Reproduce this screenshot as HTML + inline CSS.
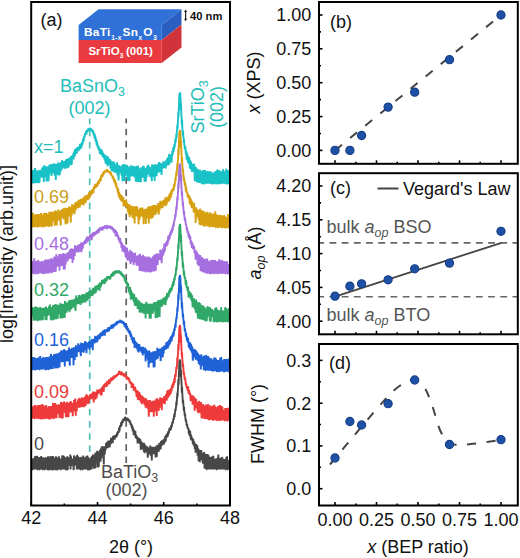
<!DOCTYPE html><html><head><meta charset="utf-8"><style>html,body{margin:0;padding:0;background:#fff;overflow:hidden}svg{display:block}</style></head><body><svg width="520" height="558" viewBox="0 0 520 558" font-family="Liberation Sans, sans-serif"><rect width="520" height="558" fill="#fff"/><line x1="89.7" y1="118.5" x2="89.7" y2="452" stroke="#4fbfb5" stroke-width="1.7" stroke-dasharray="6.6 5.54" stroke-dashoffset="0.9"/><line x1="126.2" y1="118.5" x2="126.2" y2="463" stroke="#606060" stroke-width="1.7" stroke-dasharray="6.6 5.54" stroke-dashoffset="1.95"/><polyline points="31.8,178.7 32.0,173.8 32.3,171.0 32.5,178.6 32.8,183.4 33.0,173.7 33.3,169.8 33.5,175.7 33.8,183.3 34.0,170.8 34.3,173.6 34.5,183.2 34.8,178.4 35.0,167.9 35.3,170.7 35.5,183.1 35.8,175.4 36.0,171.8 36.3,175.3 36.5,178.2 36.8,182.9 37.0,170.5 37.3,173.2 37.5,182.9 37.8,178.0 38.0,173.2 38.3,170.3 38.5,182.7 38.8,182.6 39.0,173.0 39.3,171.4 39.5,182.6 39.8,174.9 40.0,171.3 40.3,170.0 40.5,174.8 40.8,177.5 41.0,169.9 41.3,171.1 41.5,177.5 41.8,174.6 42.0,171.0 42.3,167.7 42.5,177.3 42.8,177.3 43.0,169.7 43.3,166.7 43.5,172.4 43.8,182.0 44.0,172.3 44.3,165.2 44.5,172.3 44.8,177.0 45.0,166.5 45.3,169.3 45.5,174.1 45.8,172.0 46.0,166.4 46.3,169.1 46.5,181.6 46.8,173.9 47.0,167.1 47.3,167.0 47.5,173.8 47.8,171.7 48.0,168.9 48.3,166.8 48.5,181.3 48.8,176.4 49.0,167.7 49.3,165.1 49.5,173.5 49.8,171.5 50.0,168.6 50.3,164.4 50.5,169.8 50.8,173.2 51.0,167.4 51.3,165.6 51.5,176.0 51.8,171.1 52.0,164.1 52.3,166.2 52.5,173.1 52.8,171.0 53.0,163.9 53.3,169.3 53.5,172.8 53.8,172.8 54.0,164.4 54.3,163.6 54.5,170.7 54.8,175.5 55.0,166.7 55.3,164.1 55.5,172.5 55.8,180.0 56.0,164.1 56.3,165.6 56.5,175.2 56.8,170.3 57.0,166.4 57.3,163.8 57.5,170.1 57.8,172.1 58.0,165.2 58.3,162.4 58.5,174.8 58.8,174.7 59.0,163.5 59.3,165.0 59.5,174.6 59.8,174.5 60.0,162.7 60.3,163.2 60.5,171.6 60.8,167.9 61.0,163.2 61.3,163.8 61.5,169.5 61.8,169.4 62.0,160.2 62.3,162.8 62.5,166.4 62.8,167.6 63.0,162.7 63.3,161.4 63.5,167.5 63.8,167.3 64.0,161.9 64.3,161.7 64.5,168.8 64.8,167.1 65.0,161.1 65.3,163.7 65.5,165.7 65.8,166.9 66.0,159.2 66.3,163.5 66.5,166.8 66.8,168.2 67.0,159.0 67.3,159.8 67.5,166.5 67.8,165.0 68.0,158.6 68.3,159.0 68.5,167.7 68.8,162.8 69.0,160.5 69.3,158.2 69.5,161.7 69.8,161.6 70.0,158.1 70.3,157.8 70.5,162.2 70.8,165.3 71.0,156.3 71.3,156.5 71.5,160.9 71.8,164.7 72.0,155.5 72.3,156.6 72.5,158.4 72.8,157.4 73.0,155.7 73.3,153.7 73.5,159.4 73.8,155.1 74.0,152.7 74.3,151.4 74.5,156.0 74.8,156.4 75.0,149.9 75.3,149.4 75.5,152.5 75.8,152.9 76.0,148.6 76.3,149.0 76.5,152.9 76.8,153.5 77.0,147.7 77.3,147.9 77.5,149.0 77.8,150.2 78.0,147.2 78.3,147.4 78.5,151.0 78.8,149.6 79.0,148.1 79.3,146.5 79.5,149.4 79.8,147.3 80.0,143.8 80.3,145.3 80.5,149.2 80.8,147.4 81.0,144.4 81.3,143.4 81.5,147.3 81.8,145.7 82.0,142.9 82.3,142.2 82.5,144.6 82.8,143.0 83.0,140.3 83.3,138.5 83.5,141.2 83.8,140.0 84.0,137.7 84.3,135.8 84.5,137.0 84.8,136.7 85.0,134.1 85.3,133.2 85.5,134.8 85.8,133.4 86.0,131.1 86.3,131.6 86.5,134.5 86.8,131.9 87.0,130.6 87.3,130.1 87.5,131.2 87.8,131.3 88.0,130.0 88.3,128.4 88.5,130.5 88.8,130.5 89.0,128.7 89.3,128.2 89.5,129.7 89.8,129.7 90.0,128.2 90.3,128.5 90.5,129.2 90.8,130.1 91.0,128.5 91.3,129.4 91.5,130.4 91.8,131.2 92.0,129.6 92.3,130.2 92.5,131.9 92.8,132.5 93.0,130.3 93.3,132.8 93.5,134.0 93.8,135.2 94.0,133.0 94.3,134.0 94.5,137.6 94.8,138.3 95.0,135.0 95.3,136.2 95.5,140.3 95.8,141.5 96.0,138.5 96.3,140.3 96.5,143.8 96.8,144.9 97.0,141.2 97.3,143.1 97.5,146.9 97.8,147.2 98.0,145.9 98.3,145.3 98.5,149.7 98.8,149.6 99.0,148.0 99.3,147.3 99.5,149.2 99.8,153.6 100.0,149.7 100.3,150.5 100.5,152.8 100.8,154.3 101.0,149.1 101.3,151.9 101.5,154.5 101.8,154.7 102.0,150.3 102.3,152.0 102.5,153.7 102.8,156.8 103.0,153.1 103.3,154.0 103.5,157.7 103.8,157.4 104.0,154.4 104.3,155.1 104.5,159.1 104.8,160.2 105.0,155.6 105.3,155.7 105.5,162.2 105.8,163.4 106.0,156.4 106.3,155.5 106.5,162.6 106.8,164.1 107.0,156.8 107.3,159.1 107.5,165.5 107.8,165.8 108.0,156.6 108.3,159.1 108.5,162.1 108.8,164.0 109.0,159.8 109.3,159.6 109.5,164.2 109.8,164.6 110.0,159.1 110.3,160.9 110.5,168.5 110.8,166.0 111.0,163.1 111.3,160.7 111.5,169.0 111.8,171.2 112.0,161.6 112.3,162.3 112.5,166.5 112.8,171.5 113.0,164.6 113.3,163.9 113.5,171.5 113.8,169.7 114.0,161.6 114.3,164.3 114.5,171.9 114.8,172.1 115.0,164.5 115.3,165.3 115.5,170.2 115.8,167.5 116.0,165.5 116.3,166.5 116.5,172.4 116.8,172.6 117.0,162.3 117.3,165.0 117.5,175.4 117.8,170.7 118.0,165.1 118.3,168.0 118.5,180.5 118.8,175.7 119.0,167.0 119.3,165.3 119.5,170.9 119.8,169.4 120.0,168.1 120.3,168.2 120.5,173.0 120.8,171.1 121.0,168.2 121.3,166.3 121.5,173.1 121.8,175.9 122.0,167.2 122.3,165.5 122.5,180.8 122.8,180.8 123.0,165.5 123.3,164.2 123.5,173.2 123.8,180.8 124.0,166.4 124.3,165.6 124.5,180.9 124.8,171.2 125.0,164.2 125.3,168.4 125.5,176.1 125.8,171.3 126.0,167.4 126.3,167.4 126.5,169.7 126.8,171.3 127.0,165.7 127.3,165.7 127.5,171.3 127.8,181.0 128.1,167.5 128.3,166.5 128.6,176.2 128.8,181.0 129.1,166.6 129.3,169.9 129.6,181.1 129.8,173.4 130.1,167.5 130.3,166.7 130.6,173.5 130.8,176.3 131.1,167.6 131.3,165.2 131.6,171.6 131.8,173.6 132.1,168.8 132.3,166.8 132.6,176.5 132.8,173.7 133.1,166.1 133.3,167.8 133.6,173.7 133.8,171.8 134.1,167.9 134.3,166.2 134.6,176.7 134.8,176.8 135.1,170.4 135.3,170.4 135.6,174.0 135.8,181.7 136.1,167.2 136.3,166.4 136.6,176.9 136.8,181.7 137.1,165.8 137.3,168.3 137.6,177.0 137.8,181.8 138.1,165.8 138.3,169.4 138.6,181.9 138.8,177.1 139.1,170.7 139.3,169.4 139.6,174.3 139.8,181.9 140.1,170.7 140.3,168.4 140.6,181.9 140.8,181.9 141.1,168.4 141.3,167.4 141.6,177.1 141.8,177.1 142.1,167.4 142.3,169.4 142.6,177.0 142.8,177.0 143.1,165.9 143.3,168.3 143.6,177.0 143.8,170.6 144.1,166.5 144.3,170.6 144.6,181.8 144.8,174.1 145.1,168.2 145.3,169.3 145.6,174.1 145.8,181.7 146.1,169.3 146.3,168.2 146.6,176.9 146.8,176.8 147.1,166.4 147.3,166.4 147.6,174.0 147.8,174.0 148.1,167.1 148.3,164.9 148.6,172.0 148.8,173.9 149.1,167.1 149.3,167.1 149.6,173.9 149.8,176.7 150.1,169.0 150.3,169.0 150.6,176.6 150.8,176.6 151.1,167.0 151.3,168.9 151.6,173.7 151.8,181.3 152.1,164.6 152.3,166.0 152.6,170.1 152.8,173.6 153.1,167.7 153.3,165.2 153.6,176.4 153.8,176.3 154.1,164.5 154.3,168.6 154.6,181.0 154.8,176.2 155.1,171.4 155.3,164.3 155.6,176.1 155.8,173.2 156.1,166.4 156.3,166.3 156.6,176.0 156.8,171.1 157.1,165.4 157.3,165.4 157.6,172.9 157.8,170.9 158.1,163.8 158.3,165.9 158.6,169.2 158.8,169.1 159.1,162.0 159.3,164.3 159.6,170.5 159.8,172.5 160.1,163.4 160.3,162.7 160.6,172.4 160.8,170.3 161.1,164.6 161.3,167.2 161.6,175.0 161.8,169.9 162.1,163.6 162.3,164.9 162.6,168.3 162.8,168.0 163.1,164.0 163.3,161.3 163.6,168.0 163.8,165.5 164.1,162.3 164.3,163.4 164.6,167.5 164.8,167.4 165.1,161.8 165.3,163.1 165.6,167.1 165.8,168.5 166.1,160.3 166.3,160.6 166.6,165.5 166.8,164.0 167.1,158.0 167.3,159.4 167.6,163.9 167.8,164.5 168.1,159.3 168.3,156.7 168.6,160.8 168.8,165.2 169.1,154.2 169.3,154.4 169.6,163.8 169.8,159.7 170.1,156.3 170.3,155.8 170.6,158.9 170.8,157.2 171.1,155.4 171.3,154.5 171.6,162.5 171.8,157.7 172.1,154.4 172.3,150.7 172.6,155.3 172.8,152.6 173.1,150.2 173.3,147.0 173.6,151.1 173.8,151.5 174.1,147.8 174.3,144.4 174.6,147.6 174.8,145.8 175.1,142.1 175.3,138.8 175.6,142.7 175.8,140.6 176.1,138.1 176.3,133.8 176.6,137.6 176.8,132.7 177.1,129.6 177.3,124.9 177.6,129.1 177.8,123.7 178.1,118.9 178.3,111.5 178.6,117.6 178.8,109.2 179.1,102.2 179.3,93.8 179.6,100.5 179.8,93.5 180.1,92.4 180.3,94.3 180.6,101.2 180.8,110.5 181.1,103.2 181.3,112.0 181.6,118.3 181.8,125.4 182.1,119.5 182.3,126.3 182.6,132.0 182.8,135.6 183.1,130.7 183.3,136.5 183.6,138.4 183.8,142.6 184.1,139.5 184.3,143.9 184.6,146.4 184.8,149.4 185.1,146.2 185.3,146.9 185.6,150.2 185.8,154.2 186.1,151.3 186.3,151.6 186.6,159.8 186.8,157.6 187.1,152.9 187.3,155.6 187.6,158.4 187.8,162.3 188.1,156.1 188.3,156.6 188.6,162.9 188.8,163.4 189.1,158.0 189.3,158.1 189.6,162.3 189.8,168.4 190.1,160.1 190.3,162.2 190.6,167.1 190.8,169.1 191.1,161.9 191.3,162.4 191.6,168.0 191.8,171.6 192.1,164.3 192.3,166.4 192.6,172.0 192.8,166.6 193.1,164.0 193.3,164.5 193.6,169.4 193.8,171.1 194.1,163.5 194.3,167.4 194.6,173.4 194.8,181.3 195.1,166.8 195.3,169.0 195.6,176.8 195.8,172.0 196.1,167.4 196.3,169.6 196.6,174.4 196.8,182.2 197.1,169.7 197.3,168.8 197.6,182.4 197.8,177.8 198.1,171.3 198.3,170.2 198.6,182.8 198.8,178.1 199.1,173.2 199.3,169.5 199.6,183.0 199.8,178.3 200.1,170.6 200.3,170.7 200.6,175.6 200.8,178.5 201.1,172.1 201.3,172.2 201.6,183.3 201.8,183.4 202.1,173.8 202.3,171.0 202.6,183.5 202.8,183.5 203.1,173.9 203.3,170.0 203.6,183.6 203.8,183.6 204.1,172.4 204.3,172.4 204.6,183.6 204.8,183.6 205.1,170.1 205.3,172.4 205.6,176.0 205.8,183.6 206.1,174.0 206.3,171.2 206.6,176.0 206.8,178.8 207.1,171.2 207.3,172.5 207.6,183.6 207.8,178.8 208.1,171.2 208.3,174.0 208.6,183.6 208.8,176.0 209.1,171.2 209.3,172.5 209.6,183.6 209.8,178.8 210.1,174.0 210.3,171.2 210.6,183.6 210.8,178.8 211.1,172.5 211.3,174.0 211.6,183.6 211.8,183.6 212.1,176.0 212.3,178.8 212.6,183.6 212.8,183.6 213.1,174.0 213.3,172.5 213.6,183.6 213.8,183.6 214.1,172.5 214.3,176.0 214.6,183.6 214.8,178.8 215.1,172.5 215.3,171.2 215.6,183.6 215.8,183.6 216.1,172.5 216.3,174.0 216.6,183.6 216.8,183.6 217.1,170.1 217.3,170.1 217.6,183.6 217.8,183.6 218.1,174.0 218.3,172.5 218.6,183.6 218.8,178.8 219.1,172.5 219.3,170.1 219.6,183.6 219.8,183.6 220.1,172.5 220.3,176.0 220.6,183.6 220.8,183.6 221.1,171.2 221.3,174.0 221.6,183.6 221.8,178.8 222.1,171.2 222.3,174.0 222.6,178.8 222.8,176.0 223.1,169.2 223.3,172.5 223.6,183.6 223.8,178.8 224.1,174.0 224.3,171.2 224.6,178.8 224.8,178.8 225.1,171.2 225.3,174.0 225.6,183.6 225.8,183.6 226.1,169.2 226.3,169.2 226.6,183.6 226.8,183.6 227.1,174.0 227.3,172.5 227.6,183.6 227.8,183.6 228.1,174.0 228.3,170.1 228.6,183.6 228.8,183.6 229.1,174.0" fill="none" stroke="#19c2c6" stroke-width="1.9" stroke-linejoin="bevel"/><polyline points="31.8,221.8 32.0,214.2 32.3,213.1 32.5,226.6 32.8,226.6 33.0,213.1 33.3,214.2 33.5,226.6 33.8,226.6 34.0,219.0 34.3,217.0 34.5,226.6 34.8,226.6 35.0,215.4 35.3,215.4 35.5,226.6 35.8,221.8 36.0,214.2 36.3,215.4 36.5,226.6 36.8,226.6 37.0,217.0 37.3,214.1 37.5,226.6 37.8,226.6 38.0,215.4 38.3,215.4 38.5,226.6 38.8,226.6 39.0,218.9 39.3,214.1 39.5,221.7 39.8,226.6 40.0,214.1 40.3,216.9 40.5,226.5 40.8,221.7 41.0,213.0 41.3,215.3 41.5,226.5 41.8,226.5 42.0,216.9 42.3,216.9 42.5,226.5 42.8,226.5 43.0,215.3 43.3,215.3 43.5,226.5 43.8,221.6 44.0,212.9 44.3,215.3 44.5,226.4 44.8,226.4 45.0,212.9 45.3,216.8 45.5,221.6 45.8,218.8 46.0,212.9 46.3,213.9 46.5,226.4 46.8,218.7 47.0,213.9 47.3,215.2 47.5,226.3 47.8,221.5 48.0,213.9 48.3,218.7 48.5,226.3 48.8,226.3 49.0,216.7 49.3,211.8 49.5,226.3 49.8,221.4 50.0,215.1 50.3,218.6 50.5,221.4 50.8,226.2 51.0,211.8 51.3,215.0 51.5,226.1 51.8,226.1 52.0,214.9 52.3,214.9 52.5,218.4 52.8,218.4 53.0,214.8 53.3,211.5 53.5,221.2 53.8,221.1 54.0,214.7 54.3,216.2 54.5,221.0 54.8,225.8 55.0,216.2 55.3,210.4 55.5,220.9 55.8,225.6 56.0,211.1 56.3,215.9 56.5,220.8 56.8,225.5 57.0,213.0 57.3,211.8 57.5,217.8 57.8,220.5 58.0,212.8 58.3,209.3 58.5,220.4 58.8,217.5 59.0,212.7 59.3,213.9 59.5,217.5 59.8,220.2 60.0,212.6 60.3,211.4 60.5,224.9 60.8,224.8 61.0,210.4 61.3,210.3 61.5,217.1 61.8,217.1 62.0,212.2 62.3,210.1 62.5,217.0 62.8,213.3 63.0,209.2 63.3,209.1 63.5,216.8 63.8,219.4 64.0,213.1 64.3,208.2 64.5,219.3 64.8,214.4 65.0,210.5 65.3,211.5 65.5,224.0 65.8,223.8 66.0,210.3 66.3,207.7 66.5,218.9 66.8,216.0 67.0,209.1 67.3,210.0 67.5,223.5 67.8,213.7 68.0,208.1 68.3,208.8 68.5,215.6 68.8,215.5 69.0,206.4 69.3,208.5 69.5,211.9 69.8,213.3 70.0,206.9 70.3,209.2 70.5,215.1 70.8,222.6 71.0,207.3 71.3,208.0 71.5,214.9 71.8,214.8 72.0,205.6 72.3,204.3 72.5,212.6 72.8,209.6 73.0,206.1 73.3,204.7 73.5,210.8 73.8,212.2 74.0,205.1 74.3,207.2 74.5,214.1 74.8,208.0 75.0,204.3 75.3,202.5 75.5,210.2 75.8,208.8 76.0,202.8 76.3,203.2 76.5,207.6 76.8,207.4 77.0,201.6 77.3,202.4 77.5,205.4 77.8,208.1 78.0,201.7 78.3,201.1 78.5,205.1 78.8,204.3 79.0,199.8 79.3,201.2 79.5,205.7 79.8,207.5 80.0,202.6 80.3,201.4 80.5,204.5 80.8,202.9 81.0,199.5 81.3,199.0 81.5,204.2 81.8,203.4 82.0,201.4 82.3,199.4 82.5,204.6 82.8,203.0 83.0,199.0 83.3,197.7 83.5,205.3 83.8,203.4 84.0,198.5 84.3,197.3 84.5,202.6 84.8,199.5 85.0,196.3 85.3,195.5 85.5,202.2 85.8,202.8 86.0,196.5 86.3,196.6 86.5,198.6 86.8,200.3 87.0,195.2 87.3,195.6 87.5,200.2 87.8,197.9 88.0,195.1 88.3,194.4 88.5,197.6 88.8,199.4 89.0,193.3 89.3,192.2 89.5,197.6 89.8,197.0 90.0,192.5 90.3,191.6 90.5,194.6 90.8,195.5 91.0,192.1 91.3,190.7 91.5,193.5 91.8,194.5 92.0,189.8 92.3,189.9 92.5,192.0 92.8,191.8 93.0,189.8 93.3,188.6 93.5,193.3 93.8,188.2 94.0,186.3 94.3,186.9 94.5,188.2 94.8,188.5 95.0,186.2 95.3,183.9 95.5,187.2 95.8,188.0 96.0,184.8 96.3,184.1 96.5,186.6 96.8,185.9 97.0,183.5 97.3,183.6 97.5,186.2 97.8,184.5 98.0,181.9 98.3,181.7 98.5,182.9 98.8,183.9 99.0,180.8 99.3,180.4 99.5,182.3 99.8,180.1 100.0,178.3 100.3,179.1 100.5,180.0 100.8,181.2 101.0,177.1 101.3,175.1 101.5,177.5 101.8,177.0 102.0,175.3 102.3,174.0 102.5,176.6 102.8,175.1 103.0,173.5 103.3,172.2 103.5,174.8 103.8,173.6 104.0,171.6 104.3,171.3 104.5,172.2 104.8,172.2 105.0,170.9 105.3,171.0 105.5,172.2 105.8,172.1 106.0,170.7 106.3,169.7 106.5,171.8 106.8,171.1 107.0,169.7 107.3,169.6 107.5,171.2 107.8,171.7 108.0,170.8 108.3,171.0 108.5,172.7 109.0,171.6 109.3,171.2 109.5,172.5 109.8,173.1 110.0,171.8 110.3,171.9 110.5,173.0 110.8,175.1 111.0,173.2 111.3,173.6 111.5,175.6 112.0,175.5 112.3,175.4 112.5,177.6 112.8,178.5 113.0,176.1 113.3,177.8 113.5,179.4 113.8,180.3 114.0,178.4 114.3,180.1 114.5,182.8 114.8,182.7 115.0,179.9 115.3,181.1 115.5,183.6 115.8,186.4 116.0,183.1 116.3,184.0 116.5,186.8 116.8,188.3 117.0,186.6 117.3,188.6 117.5,190.0 117.8,192.6 118.0,188.3 118.3,189.9 118.5,194.0 118.8,196.8 119.0,192.2 119.3,192.7 119.5,195.5 119.8,198.8 120.0,194.3 120.3,195.1 120.5,197.8 120.8,200.3 121.0,195.6 121.3,195.8 121.5,201.3 121.8,200.0 122.0,196.6 122.3,196.5 122.5,201.8 122.8,201.0 123.0,197.6 123.3,197.3 123.5,206.5 123.8,201.5 124.0,200.0 124.3,202.3 124.5,205.2 124.8,205.4 125.0,201.5 125.3,200.4 125.5,205.6 125.8,206.0 126.0,199.5 126.3,201.7 126.5,205.3 126.8,207.4 127.0,203.6 127.3,203.8 127.5,206.8 127.8,211.8 128.1,205.3 128.3,205.7 128.6,213.9 128.8,208.2 129.1,205.2 129.3,204.1 129.6,217.1 129.8,211.1 130.1,206.2 130.3,205.7 130.6,211.1 130.8,210.0 131.1,207.2 131.3,206.0 131.6,215.1 131.8,213.2 132.1,206.1 132.3,206.3 132.6,218.2 132.8,213.5 133.1,208.7 133.3,206.6 133.6,213.6 133.8,218.5 134.1,208.2 134.3,208.2 134.6,223.5 134.8,216.0 135.1,207.7 135.3,206.5 135.6,216.2 135.8,212.7 136.1,210.4 136.3,206.1 136.6,214.4 136.8,214.4 137.1,206.8 137.3,208.1 137.6,216.5 137.8,216.6 138.1,210.7 138.3,210.7 138.6,224.2 138.8,219.5 139.1,210.8 139.3,209.9 139.6,219.5 139.8,214.7 140.1,208.3 140.3,208.3 140.6,216.7 140.8,213.2 141.1,210.8 141.3,209.9 141.6,214.7 141.8,216.7 142.1,209.9 142.3,207.6 142.6,211.8 142.8,216.6 143.1,209.8 143.3,209.8 143.6,224.2 143.8,214.6 144.1,211.7 144.3,209.7 144.6,211.7 144.8,216.5 145.1,210.6 145.3,208.8 145.6,214.4 145.8,224.0 146.1,211.5 146.3,208.7 146.6,219.1 146.8,211.4 147.1,208.6 147.3,209.4 147.6,216.2 147.8,216.2 148.1,207.1 148.3,207.1 148.6,210.2 148.8,223.6 149.1,206.4 149.3,209.1 149.6,211.2 149.8,212.4 150.1,209.1 150.3,211.0 150.6,218.6 150.8,213.8 151.1,206.1 151.3,208.8 151.6,212.1 151.8,218.4 152.1,206.5 152.3,206.4 152.6,218.3 152.8,215.4 153.1,206.3 153.3,205.1 153.6,215.3 153.8,211.6 154.1,208.3 154.3,208.2 154.6,215.1 154.8,211.4 155.1,204.7 155.3,207.9 155.6,214.8 155.8,209.9 156.1,207.0 156.3,205.6 156.6,207.7 156.8,209.7 157.1,206.8 157.3,206.0 157.6,212.3 157.8,209.4 158.1,203.9 158.3,203.3 158.6,214.1 158.8,214.0 159.1,203.3 159.3,206.2 159.6,210.3 159.8,207.8 160.1,203.5 160.3,200.8 160.6,207.7 160.8,207.6 161.1,202.7 161.3,202.6 161.6,205.7 161.8,204.9 162.1,201.5 162.3,201.9 162.6,208.3 162.8,204.6 163.1,200.8 163.3,200.7 163.6,203.1 163.8,205.7 164.1,200.6 164.3,200.0 164.6,204.7 164.8,204.5 165.1,200.0 165.3,197.9 165.6,206.1 165.8,204.9 166.1,197.2 166.3,201.4 166.6,203.8 166.8,204.5 167.1,198.4 167.3,196.7 167.6,201.4 167.8,201.0 168.1,197.0 168.3,197.1 168.6,200.7 168.8,201.7 169.1,195.8 169.3,194.6 169.6,200.0 169.8,198.8 170.1,193.1 170.3,193.5 170.6,196.9 170.8,197.9 171.1,192.4 171.3,190.9 171.6,194.7 171.8,192.8 172.1,189.9 172.3,189.8 172.6,191.6 172.8,189.9 173.1,187.9 173.3,188.1 173.6,190.4 173.8,188.8 174.1,183.9 174.3,184.2 174.6,186.6 174.8,183.4 175.1,181.4 175.3,178.2 175.6,181.8 175.8,176.7 176.1,175.6 176.3,171.3 176.6,176.3 176.8,171.6 177.1,167.7 177.3,163.2 177.6,167.3 177.8,161.5 178.1,156.7 178.3,149.1 178.6,155.3 178.8,147.5 179.1,140.4 179.3,132.0 179.6,138.5 179.8,130.9 180.1,130.1 180.3,132.0 180.6,138.8 180.8,148.1 181.1,140.7 181.3,149.7 181.6,156.4 181.8,162.7 182.1,157.2 182.3,164.4 182.6,168.2 182.8,171.9 183.1,169.0 183.3,173.8 183.6,177.2 183.8,180.4 184.1,177.2 184.3,180.3 184.6,182.9 184.8,185.4 185.1,181.9 185.3,184.6 185.6,187.6 185.8,191.5 186.1,186.5 186.3,188.8 186.6,192.3 187.1,192.7 187.3,191.7 187.6,197.3 187.8,195.0 188.1,194.1 188.3,195.1 188.6,197.8 188.8,198.0 189.1,195.9 189.3,195.9 189.6,200.9 189.8,203.8 190.1,197.5 190.3,198.6 190.6,205.2 190.8,202.8 191.1,200.2 191.3,199.4 191.6,206.8 191.8,208.1 192.1,201.3 192.3,204.2 192.6,205.9 192.8,207.0 193.1,204.1 193.3,204.5 193.6,212.2 193.8,209.7 194.1,202.7 194.3,207.8 194.6,212.9 194.8,210.2 195.1,207.5 195.3,207.0 195.6,222.9 195.8,218.4 196.1,208.8 196.3,207.5 196.6,212.3 196.8,214.0 197.1,210.1 197.3,209.5 197.6,216.4 197.8,216.5 198.1,211.7 198.3,209.9 198.6,219.5 198.8,219.7 199.1,212.0 199.3,215.0 199.6,224.8 199.8,213.6 200.1,208.8 200.3,209.7 200.6,220.2 200.8,225.2 201.1,212.7 201.3,211.8 201.6,220.5 201.8,217.8 202.1,211.9 202.3,210.3 202.6,220.8 202.8,225.6 203.1,216.0 203.3,213.3 203.6,220.9 203.8,216.2 204.1,211.4 204.3,214.7 204.6,226.0 204.8,226.1 205.1,213.6 205.3,213.6 205.6,226.1 205.8,221.4 206.1,212.6 206.3,213.8 206.6,218.6 206.8,221.5 207.1,213.9 207.3,211.9 207.6,221.6 207.8,226.5 208.1,214.0 208.3,214.1 208.6,226.5 208.8,221.8 209.1,214.1 209.3,215.5 209.6,226.7 209.8,226.7 210.1,212.2 210.3,217.1 210.6,222.0 210.8,226.8 211.1,214.3 211.3,214.4 211.6,222.1 211.8,222.1 212.1,214.5 212.3,215.8 212.6,227.0 212.8,222.2 213.1,213.5 213.3,217.4 213.6,222.3 213.8,227.1 214.1,214.6 214.3,214.7 214.6,227.1 214.8,222.3 215.1,217.5 215.3,211.2 215.6,227.2 215.8,227.2 216.1,214.8 216.3,214.8 216.6,222.4 216.8,227.3 217.1,214.8 217.3,217.6 217.6,227.3 217.8,227.3 218.1,214.9 218.3,217.7 218.6,227.3 218.8,227.3 219.1,219.7 219.3,217.7 219.6,222.6 219.8,227.4 220.1,214.9 220.3,216.2 220.6,222.6 220.8,227.4 221.1,215.0 221.3,217.8 221.6,227.4 221.8,227.5 222.1,217.8 222.3,216.3 222.6,227.5 222.8,227.5 223.1,216.3 223.3,216.3 223.6,222.7 223.8,227.5 224.1,215.1 224.3,216.4 224.6,227.5 224.8,227.6 225.1,216.4 225.3,217.9 225.6,227.6 225.8,227.6 226.1,217.9 226.3,218.0 226.6,227.6 226.8,227.6 227.1,218.0 227.3,218.0 227.6,220.0 227.8,227.6 228.1,214.1 228.3,216.4 228.6,227.6 228.8,227.6 229.1,216.4" fill="none" stroke="#d6a010" stroke-width="1.9" stroke-linejoin="bevel"/><polyline points="31.8,273.6 32.0,262.4 32.3,264.0 32.5,268.8 32.8,266.0 33.0,262.4 33.3,261.2 33.5,273.6 33.8,273.6 34.0,262.4 34.3,258.3 34.5,268.8 34.8,268.8 35.0,264.0 35.3,263.9 35.5,273.6 35.8,273.6 36.0,263.9 36.3,261.1 36.5,265.9 36.8,268.7 37.0,262.4 37.3,263.9 37.5,273.5 37.8,273.5 38.0,263.9 38.3,260.0 38.5,268.7 38.8,273.5 39.0,262.3 39.3,263.8 39.5,268.6 39.8,273.4 40.0,262.2 40.3,262.2 40.5,268.6 40.8,268.6 41.0,263.7 41.3,263.7 41.5,268.5 41.8,273.3 42.0,263.7 42.3,260.8 42.5,273.3 42.8,273.2 43.0,263.6 43.3,262.0 43.5,273.2 43.8,273.2 44.0,262.0 44.3,262.0 44.5,273.2 44.8,273.1 45.0,261.9 45.3,259.6 45.5,268.3 45.8,273.1 46.0,261.9 46.3,259.5 46.5,273.1 46.8,273.0 47.0,261.8 47.3,263.3 47.5,268.2 47.8,272.9 48.0,265.3 48.3,259.4 48.5,272.9 48.8,272.8 49.0,259.3 49.3,263.2 49.5,268.0 49.8,267.9 50.0,261.6 50.3,263.1 50.5,272.7 50.8,267.8 51.0,260.2 51.3,258.1 51.5,272.6 51.8,272.5 52.0,260.1 52.3,262.7 52.5,264.8 52.8,272.3 53.0,259.9 53.3,259.7 53.5,262.6 53.8,267.3 54.0,259.6 54.3,256.7 54.5,272.0 54.8,260.7 55.0,259.5 55.3,259.3 55.5,264.1 55.8,271.6 56.0,259.2 56.3,254.2 56.5,266.7 56.8,266.6 57.0,256.9 57.3,256.8 57.5,266.4 57.8,263.5 58.0,257.5 58.3,258.6 58.5,263.4 58.8,263.2 59.0,257.3 59.3,254.1 59.5,270.8 59.8,263.0 60.0,254.6 60.3,254.6 60.5,257.0 60.8,265.6 61.0,256.9 61.3,254.3 61.5,265.5 61.8,265.4 62.0,256.7 62.3,256.6 62.5,260.5 62.8,260.4 63.0,253.4 63.3,253.9 63.5,262.3 63.8,269.8 64.0,256.3 64.3,255.3 64.5,258.6 64.8,269.6 65.0,253.6 65.3,256.0 65.5,264.6 65.8,261.8 66.0,256.9 66.3,255.7 66.5,259.7 66.8,255.7 67.0,254.7 67.3,253.0 67.5,261.4 67.8,259.3 68.0,252.9 68.3,252.9 68.5,257.6 68.8,259.0 69.0,251.5 69.3,252.6 69.5,259.0 69.8,256.1 70.0,250.1 70.3,249.6 70.5,257.2 70.8,258.5 71.0,252.2 71.3,248.4 71.5,257.0 71.8,258.4 72.0,250.6 72.3,248.6 72.5,263.0 72.8,254.2 73.0,250.4 73.3,249.8 73.5,259.9 73.8,253.0 74.0,249.1 74.3,250.6 74.5,254.8 74.8,255.9 75.0,245.3 75.3,249.1 75.5,251.6 75.8,250.9 76.0,247.5 76.3,246.1 76.5,252.2 76.8,249.3 77.0,246.4 77.3,247.6 77.5,250.4 77.8,249.6 78.0,245.4 78.3,245.5 78.5,252.4 78.8,247.5 79.0,244.4 79.3,245.6 79.5,251.3 79.8,249.4 80.0,245.4 80.3,246.9 80.5,249.4 80.8,248.4 81.0,244.3 81.3,242.5 81.5,252.3 81.8,245.4 82.0,243.1 82.3,242.7 82.5,245.7 82.8,248.8 83.0,243.0 83.3,243.1 83.5,244.7 83.8,244.5 84.0,243.2 84.3,241.1 84.5,242.4 84.8,242.8 85.0,240.9 85.3,239.9 85.5,243.1 85.8,243.1 86.0,238.6 86.3,239.1 86.5,243.0 86.8,240.9 87.0,238.0 87.3,236.5 87.5,241.1 87.8,240.8 88.0,237.0 88.3,237.2 88.5,239.9 88.8,240.7 89.0,238.4 89.3,237.5 89.5,238.6 89.8,237.5 90.0,235.7 90.3,234.8 90.5,238.2 90.8,238.8 91.0,234.8 91.3,234.1 91.5,236.1 91.8,240.1 92.0,233.7 92.3,234.2 92.5,236.3 92.8,236.5 93.0,233.1 93.3,232.9 93.5,235.2 93.8,236.5 94.0,232.1 94.3,232.4 94.5,234.7 94.8,235.2 95.0,232.9 95.3,232.3 95.5,234.2 95.8,233.8 96.0,232.7 96.3,231.2 96.5,234.1 96.8,232.3 97.0,231.0 97.3,230.3 97.5,232.8 97.8,232.3 98.0,229.9 98.3,229.1 98.5,232.9 98.8,231.7 99.0,230.4 99.3,228.4 99.5,230.2 99.8,230.2 100.0,227.7 100.3,227.6 100.5,229.8 100.8,229.9 101.0,227.9 101.3,228.2 101.5,229.5 101.8,229.8 102.0,227.5 102.3,227.0 102.5,230.4 102.8,228.5 103.0,227.0 103.3,226.5 103.5,229.2 103.8,227.6 104.0,226.9 104.3,226.5 104.5,227.6 104.8,227.2 105.0,226.2 105.3,225.3 105.5,228.2 105.8,227.6 106.0,225.8 106.3,226.1 106.5,227.8 106.8,229.3 107.0,225.6 107.3,225.5 107.5,227.1 107.8,226.7 108.0,226.0 108.3,226.4 108.5,227.2 108.8,228.3 109.0,225.7 109.3,226.0 109.5,227.8 109.8,227.7 110.0,226.1 110.3,226.8 110.5,228.1 110.8,228.2 111.0,226.7 111.3,226.9 111.5,229.2 111.8,228.9 112.0,226.8 112.3,227.4 112.5,229.5 112.8,229.9 113.0,228.2 113.3,229.2 113.5,229.9 113.8,232.3 114.0,229.5 114.3,229.0 114.5,232.2 114.8,232.7 115.0,230.1 115.3,230.3 115.5,233.5 115.8,236.3 116.0,231.1 116.3,232.3 116.5,235.0 116.8,234.9 117.0,232.5 117.3,233.8 117.5,236.6 117.8,237.2 118.0,235.1 118.3,237.2 118.5,239.3 118.8,240.3 119.0,237.5 119.3,238.2 119.5,241.1 119.8,242.3 120.0,238.0 120.3,239.5 120.5,244.0 120.8,243.8 121.0,241.8 121.3,243.4 121.5,247.9 121.8,245.9 122.0,242.8 122.3,245.4 122.5,251.5 122.8,249.8 123.0,245.0 123.3,246.5 123.5,249.6 123.8,252.0 124.0,246.1 124.3,245.7 124.5,250.9 124.8,252.8 125.0,246.3 125.3,248.6 125.5,256.1 125.8,256.5 126.0,249.3 126.3,247.7 126.5,258.2 126.8,254.7 127.0,247.6 127.3,251.1 127.5,260.6 127.8,258.9 128.1,251.7 128.3,252.6 128.6,256.2 128.8,259.1 129.1,253.5 129.3,251.5 129.6,257.7 129.8,261.4 130.1,252.9 130.3,249.8 130.6,264.2 130.8,261.6 131.1,252.4 131.3,254.0 131.6,256.8 131.8,261.7 132.1,251.5 132.3,255.0 132.6,258.3 132.8,261.9 133.1,253.6 133.3,254.5 133.6,264.9 133.8,262.2 134.1,253.1 134.3,254.6 134.6,260.3 134.8,260.4 135.1,252.8 135.3,255.7 135.6,260.6 135.8,262.7 136.1,255.8 136.3,256.9 136.6,265.6 136.8,262.9 137.1,259.4 137.3,259.5 137.6,263.0 137.8,263.1 138.1,258.3 138.3,254.8 138.6,266.0 138.8,263.3 139.1,256.5 139.3,256.5 139.6,271.0 139.8,261.4 140.1,253.8 140.3,258.7 140.6,266.3 140.8,266.4 141.1,256.7 141.3,261.6 141.6,271.2 141.8,263.7 142.1,256.1 142.3,263.7 142.6,271.4 142.8,261.8 143.1,254.8 143.3,257.9 143.6,266.7 143.8,271.5 144.1,259.1 144.3,256.3 144.6,271.6 144.8,266.8 145.1,259.2 145.3,259.2 145.6,271.7 145.8,271.7 146.1,257.3 146.3,257.3 146.6,264.1 146.8,271.8 147.1,259.3 147.3,259.4 147.6,267.0 147.8,271.8 148.1,264.2 148.3,256.6 148.6,271.9 148.8,271.9 149.1,260.7 149.3,260.7 149.6,271.9 149.8,267.1 150.1,257.4 150.3,258.3 150.6,271.8 150.8,271.8 151.1,260.6 151.3,258.3 151.6,271.8 151.8,264.1 152.1,259.3 152.3,259.2 152.6,266.8 152.8,260.4 153.1,256.2 153.3,258.9 153.6,271.4 153.8,263.7 154.1,258.8 154.3,254.6 154.6,271.2 154.8,259.9 155.1,256.6 155.3,255.7 155.6,266.1 155.8,270.7 156.1,257.2 156.3,253.9 156.6,260.9 156.8,260.7 157.1,255.0 157.3,253.4 157.6,265.3 157.8,262.2 158.1,253.9 158.3,257.3 158.6,260.1 158.8,258.3 159.1,254.9 159.3,254.0 159.6,259.5 159.8,259.2 160.1,254.5 160.3,249.5 160.6,256.2 160.8,254.9 161.1,250.6 161.3,251.4 161.6,263.3 161.8,260.0 162.1,251.8 162.3,250.0 162.6,253.9 162.8,255.9 163.1,249.7 163.3,248.0 163.6,254.1 163.8,252.0 164.1,247.4 164.3,243.6 164.6,251.3 164.8,250.9 165.1,245.2 165.3,245.1 165.6,246.6 165.8,246.1 166.1,243.7 166.3,241.8 166.6,244.2 166.8,245.9 167.1,241.0 167.3,240.5 167.6,244.7 167.8,242.5 168.1,237.6 168.3,235.9 168.6,240.9 168.8,238.4 169.1,237.3 169.3,234.9 169.6,239.3 169.8,236.6 170.1,234.3 170.3,232.4 170.6,235.5 170.8,234.0 171.1,231.0 171.3,230.2 171.6,233.3 172.1,230.0 172.3,227.4 172.6,231.3 172.8,227.9 173.1,226.0 173.3,223.7 173.6,226.9 173.8,223.5 174.1,222.2 174.3,219.6 174.6,220.7 174.8,219.3 175.1,216.7 175.3,214.2 175.6,217.0 175.8,214.0 176.1,209.9 176.3,206.6 176.6,210.3 176.8,205.2 177.1,201.8 177.3,196.9 177.6,200.8 177.8,195.8 178.1,190.7 178.3,182.8 178.6,189.1 178.8,181.3 179.1,173.9 179.3,165.4 179.6,172.1 179.8,164.4 180.1,163.6 180.3,165.6 180.6,172.1 180.8,181.8 181.1,174.4 181.3,183.2 181.6,189.6 181.8,196.0 182.1,191.2 182.3,197.7 182.6,201.3 182.8,206.0 183.1,202.2 183.3,207.5 183.6,211.5 183.8,214.6 184.1,211.0 184.3,215.4 184.6,217.6 184.8,220.9 185.1,217.8 185.3,220.2 185.6,222.1 185.8,225.3 186.1,223.8 186.3,225.9 186.6,227.7 186.8,230.4 187.1,227.5 187.3,230.0 187.6,233.2 187.8,232.6 188.1,231.1 188.3,233.8 188.6,236.7 188.8,237.2 189.1,233.7 189.3,235.3 189.6,239.5 189.8,238.6 190.1,236.1 190.3,236.8 190.6,242.4 190.8,244.3 191.1,240.8 191.3,241.3 191.6,242.7 191.8,247.9 192.1,243.0 192.3,243.1 192.6,245.9 192.8,249.1 193.1,245.2 193.3,245.0 193.6,248.5 193.8,249.0 194.1,246.4 194.3,249.3 194.6,253.4 194.8,251.3 195.1,250.4 195.3,249.7 195.6,259.8 195.8,256.9 196.1,252.8 196.3,250.8 196.6,257.6 196.8,255.3 197.1,252.3 197.3,256.0 197.6,264.4 197.8,260.2 198.1,254.4 198.3,254.1 198.6,265.2 198.8,265.8 199.1,256.8 199.3,257.1 199.6,261.2 199.8,261.5 200.1,255.1 200.3,256.1 200.6,271.2 200.8,264.0 201.1,258.1 201.3,260.6 201.6,264.2 201.8,264.4 202.1,257.6 202.3,257.7 202.6,272.2 202.8,264.7 203.1,258.8 203.3,262.8 203.6,272.5 203.8,267.8 204.1,259.0 204.3,260.2 204.6,265.1 204.8,268.0 205.1,260.3 205.3,261.7 205.6,272.9 205.8,273.0 206.1,265.3 206.3,258.6 206.6,268.2 206.8,268.2 207.1,258.6 207.3,261.9 207.6,273.1 207.8,273.2 208.1,265.5 208.3,260.8 208.6,268.4 208.8,273.3 209.1,265.6 209.3,262.2 209.6,273.3 209.8,273.4 210.1,262.2 210.3,261.0 210.6,273.4 210.8,273.4 211.1,262.3 211.3,260.0 211.6,273.5 211.8,273.5 212.1,261.1 212.3,260.0 212.6,268.7 212.8,273.6 213.1,265.9 213.3,261.1 213.6,273.6 213.8,268.8 214.1,264.0 214.3,260.1 214.6,273.6 214.8,273.6 215.1,260.1 215.3,262.4 215.6,268.8 215.8,268.8 216.1,266.0 216.3,262.4 216.6,268.8 216.8,273.6 217.1,261.2 217.3,266.0 217.6,273.6 217.8,273.6 218.1,262.5 218.3,261.2 218.6,273.6 218.8,268.8 219.1,261.2 219.3,259.2 219.6,273.6 219.8,268.8 220.1,261.2 220.3,261.2 220.6,268.8 220.8,273.6 221.1,261.2 221.3,261.2 221.6,273.6 221.8,266.0 222.1,260.1 222.3,261.2 222.6,268.8 222.8,273.6 223.1,262.5 223.3,266.0 223.6,268.8 223.8,273.6 224.1,261.2 224.3,262.5 224.6,268.8 224.8,273.6 225.1,261.2 225.3,264.0 225.6,273.6 225.8,273.6 226.1,264.0 226.3,262.5 226.6,268.8 226.8,273.6 227.1,261.2 227.3,264.0 227.6,273.6 227.8,273.6 228.1,264.0 228.3,266.0 228.6,273.6 228.8,273.6 229.1,264.0" fill="none" stroke="#a66fdf" stroke-width="1.9" stroke-linejoin="bevel"/><polyline points="31.8,315.8 32.0,307.1 32.3,311.0 32.5,315.8 32.8,315.8 33.0,308.2 33.3,311.0 33.5,320.6 33.8,315.8 34.0,308.2 34.3,308.1 34.5,315.8 34.8,315.8 35.0,307.1 35.3,307.1 35.5,320.6 35.8,315.8 36.0,307.0 36.3,308.1 36.5,315.7 36.8,315.7 37.0,310.9 37.3,307.0 37.5,320.5 37.8,320.5 38.0,308.1 38.3,309.3 38.5,312.9 38.8,320.5 39.0,310.8 39.3,308.0 39.5,315.6 39.8,315.6 40.0,312.8 40.3,306.9 40.5,320.4 40.8,312.7 41.0,310.7 41.3,309.2 41.5,315.5 41.8,320.3 42.0,307.9 42.3,309.1 42.5,315.5 42.8,320.3 43.0,315.4 43.3,307.8 43.5,315.4 43.8,315.4 44.0,307.7 44.3,309.0 44.5,315.4 44.8,315.3 45.0,307.7 45.3,308.9 45.5,320.1 45.8,315.3 46.0,306.6 46.3,308.9 46.5,320.1 46.8,315.2 47.0,308.8 47.3,308.8 47.5,315.2 47.8,315.1 48.0,308.8 48.3,308.8 48.5,312.3 48.8,312.3 49.0,306.4 49.3,307.4 49.5,315.1 49.8,310.2 50.0,304.6 50.3,310.2 50.5,312.2 50.8,319.8 51.0,308.6 51.3,307.2 51.5,319.7 51.8,319.7 52.0,310.0 52.3,307.1 52.5,312.0 52.8,319.5 53.0,305.1 53.3,309.8 53.5,319.5 53.8,319.4 54.0,308.3 54.3,308.2 54.5,314.5 54.8,314.5 55.0,304.8 55.3,304.8 55.5,319.2 55.8,314.3 56.0,304.7 56.3,309.4 56.5,319.1 56.8,314.2 57.0,304.6 57.3,305.4 57.5,314.1 57.8,318.8 58.0,306.4 58.3,305.3 58.5,311.1 58.8,311.1 59.0,307.5 59.3,305.1 59.5,313.8 59.8,313.8 60.0,306.1 60.3,303.2 60.5,318.5 60.8,310.8 61.0,308.8 61.3,304.8 61.5,318.4 61.8,313.4 62.0,305.8 62.3,303.8 62.5,308.6 62.8,313.3 63.0,304.6 63.3,304.5 63.5,318.0 63.8,313.1 64.0,306.8 64.3,305.4 64.5,306.7 64.8,317.8 65.0,301.1 65.3,301.7 65.5,312.9 65.8,306.4 66.0,303.2 66.3,303.0 66.5,306.3 66.8,312.6 67.0,303.9 67.3,302.9 67.5,309.7 67.8,309.6 68.0,306.1 68.3,301.9 68.5,309.5 68.8,309.5 69.0,303.5 69.3,300.3 69.5,312.1 69.8,304.4 70.0,300.9 70.3,300.1 70.5,309.2 70.8,309.1 71.0,301.4 71.3,300.6 71.5,308.9 71.8,305.3 72.0,301.2 72.3,299.7 72.5,306.7 72.8,306.7 73.0,301.0 73.3,300.2 73.5,303.8 73.8,306.5 74.0,299.4 74.3,300.0 74.5,304.8 74.8,308.3 75.0,298.6 75.3,300.5 75.5,311.0 75.8,302.1 76.0,299.0 76.3,295.4 76.5,304.4 76.8,301.9 77.0,298.2 77.3,298.1 77.5,304.1 77.8,301.7 78.0,298.5 78.3,298.4 78.5,302.7 78.8,303.8 79.0,294.9 79.3,298.2 79.5,302.4 79.8,301.3 80.0,296.5 80.3,296.3 80.5,305.0 80.8,300.1 81.0,296.2 81.3,295.6 81.5,302.0 81.8,300.8 82.0,296.5 82.3,294.5 82.5,303.1 82.8,299.7 83.0,294.0 83.3,296.7 83.5,301.6 83.8,301.5 84.0,296.1 84.3,295.4 84.5,296.5 84.8,296.4 85.0,294.4 85.3,296.9 85.5,302.4 85.8,298.1 86.0,295.1 86.3,292.5 86.5,298.0 86.8,296.5 87.0,294.9 87.3,293.0 87.5,300.7 87.8,296.9 88.0,292.4 88.3,292.7 88.5,296.9 88.8,297.5 89.0,291.2 89.3,293.7 89.5,299.0 89.8,296.4 90.0,293.2 90.3,291.8 90.5,296.3 90.8,293.4 91.0,290.1 91.3,290.9 91.5,294.1 91.8,295.9 92.0,290.1 92.3,290.9 92.5,295.7 92.8,291.8 93.0,288.4 93.3,288.0 93.5,294.2 93.8,292.9 94.0,289.1 94.3,288.5 94.5,293.3 94.8,290.9 95.0,289.4 95.3,285.8 95.5,292.4 95.8,292.6 96.0,289.0 96.3,286.9 96.5,290.6 96.8,290.1 97.0,285.4 97.3,285.9 97.5,288.5 97.8,289.3 98.0,286.0 98.3,285.1 98.5,286.8 98.8,287.2 99.0,283.9 99.3,285.4 99.5,290.8 99.8,287.4 100.0,283.0 100.3,282.9 100.5,286.3 100.8,287.3 101.0,284.1 101.3,282.5 101.5,284.2 101.8,284.7 102.0,280.6 102.3,280.0 102.5,283.0 102.8,282.9 103.0,280.0 103.3,280.7 103.5,281.7 103.8,282.8 104.0,279.3 104.3,279.7 104.5,283.9 104.8,282.8 105.0,279.0 105.3,278.6 105.5,281.6 105.8,281.3 106.0,277.7 106.3,278.3 106.5,281.0 106.8,279.5 107.0,278.2 107.3,276.1 107.5,278.6 107.8,278.2 108.0,276.6 108.3,276.9 108.5,278.8 108.8,278.1 109.0,276.6 109.3,276.9 109.5,278.3 109.8,279.6 110.0,276.0 110.3,276.5 110.5,278.4 111.0,275.4 111.3,274.1 111.5,275.8 111.8,275.2 112.0,273.4 112.3,274.0 112.5,275.9 112.8,276.0 113.0,272.2 113.3,272.2 113.5,275.9 113.8,274.1 114.0,272.4 114.3,272.5 114.5,273.8 114.8,274.3 115.0,271.7 115.3,270.9 115.5,272.9 115.8,272.8 116.0,271.3 116.3,270.5 116.5,272.6 116.8,272.1 117.0,270.9 117.3,271.0 117.5,273.0 117.8,272.0 118.0,270.5 118.3,271.4 118.5,272.1 118.8,273.2 119.0,270.5 119.3,271.3 119.5,272.7 119.8,273.1 120.0,271.9 120.3,271.4 120.5,273.4 120.8,274.0 121.0,271.7 121.3,272.9 121.5,274.3 121.8,275.8 122.0,274.0 122.3,273.2 122.5,276.1 122.8,276.0 123.0,274.4 123.3,275.6 123.5,277.6 123.8,277.4 124.0,275.6 124.3,276.5 124.5,278.2 124.8,280.9 125.0,278.9 125.3,279.0 125.5,281.8 125.8,283.0 126.0,280.6 126.3,281.0 126.5,283.0 126.8,284.3 127.0,282.3 127.3,282.9 127.5,288.3 127.8,287.5 128.1,283.4 128.3,285.5 128.6,288.6 128.8,292.0 129.1,288.7 129.3,287.6 129.6,292.1 129.8,294.5 130.1,287.0 130.3,289.1 130.6,293.2 130.8,299.8 131.1,290.3 131.3,291.5 131.6,296.5 131.8,296.8 132.1,292.6 132.3,294.5 132.6,296.2 132.8,299.4 133.1,294.9 133.3,295.6 133.6,299.8 133.8,302.0 134.1,293.9 134.3,296.8 134.6,302.3 134.8,305.4 135.1,297.7 135.3,298.8 135.6,305.9 135.8,303.2 136.1,297.4 136.3,299.3 136.6,302.4 136.8,302.8 137.1,300.9 137.3,299.3 137.6,308.9 137.8,307.1 138.1,301.4 138.3,301.6 138.6,305.8 138.8,307.5 139.1,300.6 139.3,302.9 139.6,312.5 139.8,309.9 140.1,303.9 140.3,304.0 140.6,312.8 140.8,310.1 141.1,304.1 141.3,302.6 141.6,308.2 141.8,308.3 142.1,305.5 142.3,303.5 142.6,310.4 142.8,313.3 143.1,304.6 143.3,305.7 143.6,313.4 143.8,307.1 144.1,303.9 144.3,304.9 144.6,310.8 144.8,313.6 145.1,306.0 145.3,305.0 145.6,318.5 145.8,308.9 146.1,304.1 146.3,301.9 146.6,309.0 146.8,311.0 147.1,304.2 147.3,304.3 147.6,309.1 147.8,313.9 148.1,305.2 148.3,304.3 148.6,311.1 148.8,314.0 149.1,305.3 149.3,303.5 149.6,318.8 149.8,307.6 150.1,306.3 150.3,307.6 150.6,314.0 150.8,318.8 151.1,305.2 151.3,304.3 151.6,313.9 151.8,309.1 152.1,304.2 152.3,304.1 152.6,311.0 152.8,313.8 153.1,307.3 153.3,307.2 153.6,310.9 153.8,310.7 154.1,303.1 154.3,302.3 154.6,308.7 154.8,308.6 155.1,302.9 155.3,302.8 155.6,318.1 155.8,308.3 156.1,302.0 156.3,304.4 156.6,317.9 156.8,310.1 157.1,302.4 157.3,302.3 157.6,317.6 157.8,307.9 158.1,302.3 158.3,300.0 158.6,312.5 158.8,307.7 159.1,302.8 159.3,299.9 159.6,317.1 159.8,307.4 160.1,301.7 160.3,300.2 160.6,305.7 160.8,303.2 161.1,301.5 161.3,299.3 161.6,306.9 161.8,305.3 162.1,300.4 162.3,300.9 162.6,305.1 162.8,302.5 163.1,299.3 163.3,297.9 163.6,303.4 163.8,304.4 164.1,297.8 164.3,298.0 164.6,301.9 164.8,301.6 165.1,296.9 165.3,297.5 165.6,305.2 165.8,301.1 166.1,296.6 166.3,296.3 166.6,298.4 166.8,300.3 167.1,293.1 167.3,293.9 167.6,297.8 167.8,297.5 168.1,292.6 168.3,294.3 168.6,296.5 168.8,295.0 169.1,291.4 169.3,290.2 169.6,293.4 169.8,292.7 170.1,291.6 170.3,288.1 170.6,291.9 170.8,291.0 171.1,288.2 171.3,288.1 171.6,290.0 171.8,289.8 172.1,287.1 172.3,284.3 172.6,287.2 172.8,285.6 173.1,283.5 173.3,281.2 173.6,285.5 173.8,282.7 174.1,279.5 174.3,277.7 174.6,280.5 174.8,278.1 175.1,276.3 175.3,273.8 175.6,275.6 175.8,273.1 176.1,269.7 176.3,266.9 176.6,270.0 176.8,265.4 177.1,261.5 177.3,257.4 177.6,261.2 177.8,255.5 178.1,251.2 178.3,243.3 178.6,249.1 178.8,241.4 179.1,234.1 179.3,225.9 179.6,232.2 179.8,225.0 180.1,224.1 180.3,226.1 180.6,232.8 180.8,241.9 181.1,234.6 181.3,243.8 181.6,250.2 181.8,256.3 182.1,251.0 182.3,257.9 182.6,261.6 182.8,267.7 183.1,262.4 183.3,267.3 183.6,270.1 183.8,275.2 184.1,271.0 184.3,273.9 184.6,277.9 184.8,278.9 185.1,277.4 185.3,279.2 185.6,283.5 185.8,285.0 186.1,280.1 186.3,282.7 186.6,285.5 186.8,288.5 187.1,286.6 187.3,286.3 187.6,291.1 187.8,290.6 188.1,286.8 188.3,291.1 188.6,297.4 188.8,294.3 189.1,291.4 189.3,291.3 189.6,294.3 189.8,296.7 190.1,293.0 190.3,292.5 190.6,299.2 190.8,296.6 191.1,293.3 191.3,294.5 191.6,299.8 191.8,301.4 192.1,295.3 192.3,297.4 192.6,307.4 192.8,303.2 193.1,299.5 193.3,298.6 193.6,306.4 193.8,302.8 194.1,298.4 194.3,300.1 194.6,305.3 194.8,309.1 195.1,301.0 195.3,299.9 195.6,309.5 195.8,312.8 196.1,299.7 196.3,301.8 196.6,306.6 196.8,313.2 197.1,302.1 197.3,304.8 197.6,308.7 197.8,318.5 198.1,303.9 198.3,305.2 198.6,318.7 198.8,311.3 199.1,302.2 199.3,305.5 199.6,314.3 199.8,319.3 200.1,308.0 200.3,303.3 200.6,311.8 200.8,314.7 201.1,307.1 201.3,308.5 201.6,319.7 201.8,315.0 202.1,305.4 202.3,307.5 202.6,312.3 202.8,315.2 203.1,305.5 203.3,307.7 203.6,320.2 203.8,312.6 204.1,306.8 204.3,307.9 204.6,320.4 204.8,312.9 205.1,308.0 205.3,310.9 205.6,320.6 205.8,320.7 206.1,311.0 206.3,309.5 206.6,320.7 206.8,320.8 207.1,313.1 207.3,306.4 207.6,316.0 207.8,316.1 208.1,308.5 208.3,311.3 208.6,313.4 208.8,313.5 209.1,309.9 209.3,306.7 209.6,316.3 209.8,321.2 210.1,307.7 210.3,308.8 210.6,321.3 210.8,321.3 211.1,308.9 211.3,310.2 211.6,316.6 211.8,316.6 212.1,309.0 212.3,311.8 212.6,316.6 212.8,313.9 213.1,311.9 213.3,311.9 213.6,321.5 213.8,321.6 214.1,311.9 214.3,310.4 214.6,321.6 214.8,321.6 215.1,309.1 215.3,308.1 215.6,316.8 215.8,316.8 216.1,310.4 216.3,307.2 216.6,321.6 216.8,321.6 217.1,309.2 217.3,312.0 217.6,321.6 217.8,321.6 218.1,310.5 218.3,312.0 218.6,321.6 218.8,314.0 219.1,312.0 219.3,310.5 219.6,316.8 219.8,321.6 220.1,312.0 220.3,310.5 220.6,321.6 220.8,321.6 221.1,307.2 221.3,310.5 221.6,314.0 221.8,321.6 222.1,312.0 222.3,310.5 222.6,321.6 222.8,321.6 223.1,312.0 223.3,310.5 223.6,321.6 223.8,321.6 224.1,314.0 224.3,312.0 224.6,316.8 224.8,316.8 225.1,309.2 225.3,307.2 225.6,321.6 225.8,321.6 226.1,310.5 226.3,308.1 226.6,316.8 226.8,321.6 227.1,312.0 227.3,309.2 227.6,321.6 227.8,321.6 228.1,312.0 228.3,309.2 228.6,321.6 228.8,321.6 229.1,308.1" fill="none" stroke="#30a868" stroke-width="1.9" stroke-linejoin="bevel"/><polyline points="31.8,369.6 32.0,357.2 32.3,358.5 32.5,369.6 32.8,369.6 33.0,360.0 33.3,357.2 33.5,364.8 33.8,369.6 34.0,357.2 34.3,358.5 34.5,369.6 34.8,369.6 35.0,358.5 35.3,358.4 35.5,369.6 35.8,369.6 36.0,358.4 36.3,360.0 36.5,364.8 36.8,369.6 37.0,358.4 37.3,358.4 37.5,364.8 38.0,364.8 38.3,360.0 38.5,369.6 38.8,364.8 39.0,357.2 39.3,358.4 39.5,369.6 39.8,369.6 40.0,358.4 40.3,356.1 40.5,364.8 40.8,369.6 41.0,359.9 41.3,358.4 41.5,364.7 41.8,364.7 42.0,359.9 42.3,358.4 42.5,369.5 42.8,364.7 43.0,359.9 43.3,357.1 43.5,364.7 43.8,369.5 44.0,358.3 44.3,359.9 44.5,364.7 44.8,364.7 45.0,359.8 45.3,359.8 45.5,369.5 45.8,369.4 46.0,357.0 46.3,359.8 46.5,369.4 46.8,369.4 47.0,358.2 47.3,358.2 47.5,364.6 47.8,369.4 48.0,356.9 48.3,359.7 48.5,369.4 48.8,369.4 49.0,358.2 49.3,359.7 49.5,364.5 49.8,369.3 50.0,359.6 50.3,355.7 50.5,369.2 50.8,364.4 51.0,353.9 51.3,357.9 51.5,364.3 51.8,369.0 52.0,356.6 52.3,356.6 52.5,369.0 52.8,364.1 53.0,357.7 53.3,357.6 53.5,363.9 53.8,359.0 54.0,354.2 54.3,355.1 54.5,363.7 54.8,368.4 55.0,355.0 55.3,354.7 55.5,363.5 55.8,368.2 56.0,358.6 56.3,353.6 56.5,360.4 56.8,360.3 57.0,355.5 57.3,356.6 57.5,367.8 57.8,367.7 58.0,353.2 58.3,356.3 58.5,362.7 58.8,367.4 59.0,355.0 59.3,352.9 59.5,367.4 59.8,359.6 60.0,352.8 60.3,352.7 60.5,356.0 60.8,359.5 61.0,352.6 61.3,350.4 61.5,355.8 61.8,362.1 62.0,354.5 62.3,353.3 62.5,354.4 62.8,362.0 63.0,352.4 63.3,350.7 63.5,357.1 63.8,359.0 64.0,349.3 64.3,350.5 64.5,358.9 64.8,366.5 65.0,352.0 65.3,350.4 65.5,356.8 65.8,355.2 66.0,351.9 66.3,351.8 66.5,356.7 66.8,361.4 67.0,350.9 67.3,351.7 67.5,358.5 67.8,358.5 68.0,350.1 68.3,352.5 68.5,361.2 68.8,358.3 69.0,347.6 69.3,349.2 69.5,361.1 69.8,365.8 70.0,350.5 70.3,349.1 70.5,356.0 70.8,358.0 71.0,350.3 71.3,353.1 71.5,357.9 71.8,355.8 72.0,348.8 72.3,348.1 72.5,355.7 72.8,351.8 73.0,349.2 73.3,347.9 73.5,365.2 73.8,352.6 74.0,350.6 74.3,347.2 74.5,353.8 74.8,360.1 75.0,348.3 75.3,347.5 75.5,353.6 75.8,352.2 76.0,345.4 76.3,347.3 76.5,354.9 76.8,356.9 77.0,347.2 77.3,347.1 77.5,352.0 77.8,350.8 78.0,348.3 78.3,343.4 78.5,350.7 78.8,351.7 79.0,346.3 79.3,344.7 79.5,351.6 79.8,351.5 80.0,344.7 80.3,346.0 80.5,352.6 80.8,356.1 81.0,344.1 81.3,342.8 81.5,347.0 81.8,349.1 82.0,343.8 82.3,343.0 82.5,350.0 82.8,352.2 83.0,346.1 83.3,346.0 83.5,352.2 83.8,352.1 84.0,344.4 84.3,343.4 84.5,347.1 84.8,347.0 85.0,341.3 85.3,342.5 85.5,350.5 85.8,347.6 86.0,343.2 86.3,341.9 86.5,353.2 86.8,346.7 87.0,342.9 87.3,344.2 87.5,348.1 87.8,346.4 88.0,343.2 88.3,344.0 88.5,346.4 88.8,346.3 89.0,341.5 89.3,342.0 89.5,349.7 89.8,343.7 90.0,341.5 90.3,342.6 90.5,347.4 90.8,346.5 91.0,342.6 91.3,340.2 91.5,345.0 91.8,346.2 92.0,340.3 92.3,339.0 92.5,343.6 92.8,350.1 93.0,339.6 93.3,339.8 93.5,342.2 93.8,343.5 94.0,340.4 94.3,339.3 94.5,343.5 94.8,339.8 95.0,336.6 95.3,336.7 95.5,342.5 95.8,340.1 96.0,337.6 96.3,337.4 96.5,342.3 96.8,341.5 97.0,336.8 97.3,336.0 97.5,341.4 97.8,337.4 98.0,335.9 98.3,334.9 98.5,338.3 98.8,338.7 99.0,335.0 99.3,335.1 99.5,338.6 99.8,338.7 100.0,334.2 100.3,333.3 100.5,336.5 100.8,336.6 101.0,334.1 101.3,332.5 101.5,334.8 101.8,336.0 102.0,332.2 102.3,332.3 102.5,335.7 102.8,334.4 103.0,331.4 103.3,331.1 103.5,334.2 103.8,333.1 104.0,331.7 104.3,330.0 104.5,333.9 104.8,335.6 105.0,330.5 105.3,329.4 105.5,331.2 105.8,332.5 106.0,330.4 106.3,329.8 106.5,331.1 106.8,332.1 107.0,328.9 107.3,329.8 107.5,331.6 107.8,330.6 108.0,328.4 108.3,327.3 108.5,331.4 108.8,330.9 109.0,327.9 109.3,327.9 109.5,329.7 109.8,329.3 110.0,326.9 110.3,327.5 110.5,328.4 110.8,328.9 111.0,326.8 111.3,325.0 111.5,328.0 111.8,327.6 112.0,325.8 112.3,324.8 112.5,328.5 112.8,327.2 113.0,324.4 113.3,325.3 113.5,327.3 113.8,325.8 114.0,324.1 114.3,324.1 114.5,325.8 114.8,325.6 115.0,323.4 115.3,323.9 115.5,325.2 115.8,324.5 116.0,323.2 116.3,322.4 116.5,325.1 116.8,322.2 117.0,321.2 117.3,322.6 117.5,323.2 117.8,323.2 118.0,321.7 118.3,321.6 118.5,323.1 118.8,322.1 119.0,320.6 119.3,322.0 119.5,322.7 119.8,321.8 120.0,320.8 120.3,319.8 120.5,322.7 120.8,321.8 121.0,321.2 121.3,320.7 121.5,322.1 121.8,323.3 122.0,321.1 122.3,321.3 122.5,323.5 122.8,322.7 123.0,321.6 123.3,322.0 123.5,323.8 123.8,324.4 124.0,322.1 124.3,323.6 124.5,325.4 124.8,327.1 125.0,323.6 125.3,324.0 125.5,326.0 125.8,327.6 126.0,324.8 126.3,324.5 126.5,328.3 126.8,327.9 127.0,326.5 127.3,326.9 127.5,330.0 127.8,331.1 128.1,328.5 128.3,329.4 128.6,331.2 128.8,332.9 129.1,330.4 129.3,331.4 129.6,333.0 129.8,334.7 130.1,330.8 130.3,332.4 130.6,336.0 130.8,336.8 131.1,334.5 131.3,334.6 131.6,339.7 131.8,338.4 132.1,337.1 132.3,336.6 132.6,340.6 132.8,342.7 133.1,338.9 133.3,339.1 133.6,343.0 133.8,343.7 134.1,337.6 134.3,340.7 134.6,347.9 134.8,344.5 135.1,340.9 135.3,342.4 135.6,346.3 135.8,346.6 136.1,342.3 136.3,343.2 136.6,346.2 136.8,348.7 137.1,344.8 137.3,343.3 137.6,348.0 137.8,351.1 138.1,344.7 138.3,344.1 138.6,352.5 138.8,350.4 139.1,346.1 139.3,344.0 139.6,350.6 139.8,348.3 140.1,347.0 140.3,346.6 140.6,350.0 140.8,351.1 141.1,346.8 141.3,348.7 141.6,352.2 141.8,352.4 142.1,350.4 142.3,347.2 142.6,351.6 142.8,355.5 143.1,346.9 143.3,348.1 143.6,351.0 143.8,352.0 144.1,348.9 144.3,348.6 144.6,353.4 144.8,352.6 145.1,347.7 145.3,349.7 145.6,361.4 145.8,355.3 146.1,349.9 146.3,350.1 146.6,353.2 146.8,357.3 147.1,351.6 147.3,351.8 147.6,355.9 147.8,359.7 148.1,351.9 148.3,350.8 148.6,367.4 148.8,357.9 149.1,353.0 149.3,350.4 149.6,362.8 149.8,362.8 150.1,355.2 150.3,352.4 150.6,356.5 150.8,362.8 151.1,355.2 151.3,352.3 151.6,360.0 151.8,362.8 152.1,353.1 152.3,355.1 152.6,362.7 152.8,356.2 153.1,352.2 153.3,351.4 153.6,367.4 153.8,359.7 154.1,352.1 154.3,353.7 154.6,367.2 154.8,357.5 155.1,351.1 155.3,354.5 155.6,359.4 155.8,359.2 156.1,351.6 156.3,355.6 156.6,359.2 156.8,355.5 157.1,352.2 157.3,347.7 157.6,355.4 157.8,358.8 158.1,351.2 158.3,349.6 158.6,352.8 158.8,352.7 159.1,349.5 159.3,349.4 159.6,352.6 159.8,356.3 160.1,350.0 160.3,348.6 160.6,361.1 160.8,358.1 161.1,349.8 161.3,349.6 161.6,354.5 161.8,354.3 162.1,347.6 162.3,347.6 162.6,351.8 162.8,357.4 163.1,347.8 163.3,348.3 163.6,353.8 163.8,350.4 164.1,345.6 164.3,346.2 164.6,348.0 164.8,350.0 165.1,345.5 165.3,346.8 165.6,348.9 165.8,349.5 166.1,345.2 166.3,342.2 166.6,348.4 166.8,345.7 167.1,342.1 167.3,344.3 167.6,348.6 167.8,347.7 168.1,341.0 168.3,342.2 168.6,345.9 168.8,345.7 169.1,340.7 169.3,339.7 169.6,344.1 169.8,344.2 170.1,341.0 170.3,337.6 170.6,342.1 170.8,340.4 171.1,336.8 171.3,336.3 171.6,341.2 171.8,339.7 172.1,335.6 172.3,334.5 172.6,337.3 172.8,336.6 173.1,332.9 173.3,331.9 173.6,336.1 173.8,333.7 174.1,329.4 174.3,328.7 174.6,331.0 174.8,328.4 175.1,326.7 175.3,323.8 175.6,327.8 175.8,322.5 176.1,320.8 176.3,317.4 176.6,319.1 176.8,316.1 177.1,312.4 177.3,307.5 177.6,311.4 177.8,306.4 178.1,302.0 178.3,293.8 178.6,300.2 178.8,292.8 179.1,285.0 179.3,277.0 179.6,283.3 179.8,276.2 180.1,275.0 180.3,277.2 180.6,283.7 180.8,293.1 181.1,285.4 181.3,294.6 181.6,300.9 181.8,308.4 182.1,302.2 182.3,308.3 182.6,312.5 182.8,317.4 183.1,313.5 183.3,318.4 183.6,321.1 183.8,325.0 184.1,320.7 184.3,324.9 184.6,329.0 184.8,331.1 185.1,328.5 185.3,331.6 185.6,332.5 185.8,336.8 186.1,332.8 186.3,334.4 186.6,337.4 186.8,340.4 187.1,337.2 187.3,336.9 187.6,341.0 187.8,342.5 188.1,338.1 188.3,340.6 188.6,344.1 188.8,347.3 189.1,342.0 189.3,343.6 189.6,347.9 189.8,348.9 190.1,342.8 190.3,343.0 190.6,347.1 190.8,350.9 191.1,344.0 191.3,345.7 191.6,349.5 191.8,352.7 192.1,346.7 192.3,347.6 192.6,354.3 192.8,360.8 193.1,350.5 193.3,348.8 193.6,355.0 193.8,353.9 194.1,349.7 194.3,349.0 194.6,353.3 194.8,357.4 195.1,349.9 195.3,351.2 195.6,359.8 195.8,356.4 196.1,350.8 196.3,351.1 196.6,355.4 196.8,358.3 197.1,352.8 197.3,353.0 197.6,360.7 197.8,358.9 198.1,353.3 198.3,359.0 198.6,361.0 198.8,364.0 199.1,355.4 199.3,355.5 199.6,364.2 199.8,364.3 200.1,356.7 200.3,355.9 200.6,361.7 200.8,369.4 201.1,357.0 201.3,354.3 201.6,364.7 201.8,364.9 202.1,357.3 202.3,360.2 202.6,365.0 202.8,365.1 203.1,358.7 203.3,356.5 203.6,365.2 203.8,370.1 204.1,355.6 204.3,356.6 204.6,370.1 204.8,365.4 205.1,355.8 205.3,360.6 205.6,370.3 205.8,370.4 206.1,355.1 206.3,359.2 206.6,365.6 206.8,370.5 207.1,359.3 207.3,359.3 207.6,370.5 207.8,365.7 208.1,356.1 208.3,359.4 208.6,363.0 208.8,370.7 209.1,358.2 209.3,358.3 209.6,365.9 209.8,370.7 210.1,361.1 210.3,359.6 210.6,370.8 210.8,363.2 211.1,359.7 211.3,358.4 211.6,366.0 211.8,370.9 212.1,359.7 212.3,361.3 212.6,371.0 212.8,371.0 213.1,361.4 213.3,363.4 213.6,371.0 213.8,366.2 214.1,359.9 214.3,357.6 214.6,371.1 214.8,366.3 215.1,361.5 215.3,357.6 215.6,366.3 215.8,363.5 216.1,358.7 216.3,361.6 216.6,371.2 216.8,371.2 217.1,361.6 217.3,361.6 217.6,371.2 217.8,371.3 218.1,360.1 218.3,361.6 218.6,371.3 218.8,371.3 219.1,361.7 219.3,361.7 219.6,371.3 219.8,371.4 220.1,358.9 220.3,357.8 220.6,366.6 220.8,363.8 221.1,358.9 221.3,357.0 221.6,366.6 221.8,371.4 222.1,361.8 222.3,363.8 222.6,366.6 222.8,366.7 223.1,361.8 223.3,360.3 223.6,371.5 223.8,371.5 224.1,360.3 224.3,359.1 224.6,371.5 224.8,371.5 225.1,359.1 225.3,360.4 225.6,366.7 225.8,371.6 226.1,359.1 226.3,361.9 226.6,366.8 226.8,371.6 227.1,360.4 227.3,359.2 227.6,364.0 227.8,371.6 228.1,359.2 228.3,359.2 228.6,371.6 228.8,371.6 229.1,364.0" fill="none" stroke="#1f62d8" stroke-width="1.9" stroke-linejoin="bevel"/><polyline points="31.8,418.6 32.0,407.5 32.3,409.0 32.5,418.6 32.8,413.8 33.0,409.0 33.3,406.2 33.5,413.8 33.8,413.8 34.0,406.2 34.3,406.2 34.5,418.6 34.8,418.6 35.0,406.2 35.3,405.1 35.5,413.8 35.8,413.8 36.0,411.0 36.3,406.2 36.5,411.0 36.8,418.6 37.0,409.0 37.3,407.5 37.5,413.8 37.8,418.6 38.0,405.1 38.3,409.0 38.5,418.6 38.8,418.6 39.0,409.0 39.3,406.2 39.5,413.8 39.8,411.0 40.0,405.1 40.3,406.2 40.5,418.6 40.8,418.6 41.0,409.0 41.3,405.1 41.5,418.6 41.8,418.6 42.0,404.2 42.3,405.1 42.5,418.6 42.8,418.6 43.0,406.2 43.3,405.1 43.5,409.0 43.8,413.8 44.0,409.0 44.3,407.4 44.5,418.6 44.8,418.6 45.0,409.0 45.3,406.1 45.5,418.6 45.8,413.8 46.0,408.9 46.3,405.1 46.5,413.8 46.8,418.6 47.0,408.9 47.3,410.9 47.5,418.6 47.8,413.7 48.0,407.4 48.3,410.9 48.5,418.5 48.8,418.5 49.0,407.4 49.3,406.1 49.5,418.5 49.8,418.5 50.0,406.1 50.3,408.9 50.5,418.5 50.8,418.5 51.0,408.9 51.3,407.3 51.5,413.7 51.8,418.5 52.0,406.0 52.3,408.8 52.5,413.6 52.8,413.6 53.0,404.0 53.3,403.1 53.5,418.4 53.8,418.4 54.0,405.9 54.3,405.9 54.5,413.5 54.8,418.3 55.0,407.1 55.3,403.0 55.5,413.5 55.8,413.4 56.0,408.6 56.3,404.7 56.5,418.2 56.8,410.5 57.0,407.0 57.3,404.6 57.5,413.3 57.8,413.3 58.0,406.9 58.3,404.5 58.5,413.2 58.8,413.2 59.0,404.5 59.3,405.5 59.5,418.0 59.8,410.3 60.0,406.8 60.3,406.7 60.5,413.1 60.8,410.2 61.0,401.9 61.3,405.3 61.5,417.8 61.8,417.7 62.0,404.2 62.3,404.2 62.5,417.7 62.8,417.7 63.0,403.2 63.3,403.1 63.5,408.0 63.8,412.7 64.0,401.5 64.3,403.0 64.5,412.6 64.8,409.7 65.0,406.2 65.3,406.2 65.5,409.7 65.8,417.3 66.0,404.8 66.3,402.8 66.5,409.5 66.8,412.3 67.0,401.9 67.3,404.6 67.5,417.1 67.8,409.4 68.0,403.5 68.3,403.4 68.5,416.9 68.8,409.2 69.0,405.7 69.3,404.3 69.5,409.2 69.8,409.1 70.0,402.2 70.3,402.2 70.5,411.9 70.8,411.7 71.0,401.3 71.3,405.3 71.5,411.7 71.8,408.8 72.0,405.2 72.3,405.1 72.5,411.5 72.8,416.3 73.0,402.7 73.3,403.7 73.5,406.6 73.8,408.5 74.0,400.1 74.3,401.5 74.5,408.4 74.8,411.1 75.0,400.7 75.3,398.6 75.5,411.1 75.8,415.8 76.0,402.3 76.3,404.5 76.5,410.9 76.8,410.8 77.0,403.1 77.3,402.0 77.5,405.9 77.8,407.8 78.0,401.9 78.3,399.3 78.5,402.9 78.8,407.6 79.0,401.7 79.3,397.9 79.5,407.5 79.8,405.4 80.0,399.1 80.3,398.9 80.5,405.3 80.8,402.4 81.0,398.8 81.3,401.2 81.5,407.1 81.8,405.0 82.0,397.4 82.3,401.0 82.5,402.1 82.8,402.1 83.0,397.8 83.3,398.4 83.5,406.8 83.8,406.6 84.0,397.6 84.3,398.2 84.5,403.0 84.8,401.6 85.0,397.4 85.3,396.7 85.5,406.3 85.8,399.4 86.0,397.1 86.3,394.4 86.5,404.1 86.8,402.4 87.0,397.0 87.3,394.7 87.5,402.3 87.8,403.8 88.0,397.4 88.3,396.1 88.5,400.8 88.8,403.6 89.0,396.5 89.3,397.1 89.5,399.6 89.8,397.7 90.0,395.1 90.3,394.5 90.5,398.4 90.8,398.4 91.0,396.1 91.3,393.8 91.5,399.1 91.8,398.1 92.0,393.3 92.3,394.6 92.5,395.8 92.8,398.8 93.0,391.5 93.3,394.4 93.5,398.7 93.8,402.5 94.0,394.3 94.3,394.2 94.5,398.5 94.8,395.2 95.0,392.1 95.3,392.5 95.5,399.3 95.8,397.2 96.0,393.3 96.3,392.7 96.5,398.0 96.8,396.1 97.0,392.5 97.3,389.5 97.5,394.6 97.8,393.3 98.0,391.3 98.3,391.6 98.5,393.1 98.8,392.5 99.0,391.0 99.3,389.4 99.5,392.8 99.8,392.1 100.0,389.9 100.3,389.6 100.5,390.9 100.8,395.4 101.0,388.6 101.3,388.9 101.5,395.4 101.8,392.4 102.0,387.5 102.3,387.5 102.5,390.6 102.8,389.9 103.0,385.9 103.3,386.4 103.5,391.6 103.8,390.8 104.0,385.5 104.3,384.3 104.5,386.2 104.8,386.8 105.0,383.9 105.3,383.8 105.5,386.2 105.8,387.0 106.0,383.8 106.3,382.9 106.5,386.7 106.8,385.3 107.0,381.6 107.3,381.5 107.5,385.3 107.8,382.1 108.0,381.1 108.3,381.5 108.5,383.9 108.8,382.4 109.0,380.4 109.3,379.1 109.5,384.0 109.8,383.0 110.0,379.7 110.3,379.0 110.5,381.1 110.8,381.4 111.0,379.0 111.3,377.7 111.5,379.5 111.8,380.9 112.0,377.3 112.3,378.1 112.5,379.2 112.8,379.0 113.0,377.1 113.3,377.0 113.5,378.9 113.8,378.8 114.0,376.3 114.3,375.8 114.5,377.5 114.8,377.9 115.0,376.1 115.3,375.5 115.5,377.2 115.8,376.6 116.0,375.2 116.3,375.4 116.5,376.3 116.8,375.8 117.0,374.4 117.3,374.4 117.5,375.1 117.8,375.0 118.0,374.0 118.3,373.3 118.5,374.2 118.8,373.8 119.0,371.1 119.3,371.6 119.5,373.9 119.8,373.7 120.0,372.0 120.3,372.3 120.5,374.4 120.8,374.7 121.0,371.9 121.3,372.1 121.5,374.7 121.8,374.8 122.0,373.0 122.3,372.3 122.5,373.9 122.8,375.0 123.0,373.7 123.3,374.3 123.5,376.0 123.8,375.9 124.0,373.5 124.3,374.4 124.5,375.1 124.8,376.3 125.0,373.5 125.3,375.2 125.5,377.1 125.8,377.0 126.0,374.9 126.3,375.9 126.5,377.5 126.8,379.6 127.0,377.1 127.3,376.9 127.5,378.4 127.8,378.9 128.1,377.5 128.3,377.1 128.6,379.8 128.8,380.4 129.1,378.4 129.3,379.2 129.6,381.4 129.8,383.1 130.1,380.8 130.3,382.0 130.6,383.1 130.8,383.8 131.1,382.4 131.3,382.7 131.6,387.9 131.8,386.9 132.1,383.2 132.3,383.6 132.6,386.8 132.8,387.2 133.1,384.1 133.3,384.8 133.6,388.3 133.8,390.6 134.1,387.7 134.3,387.8 134.6,389.4 134.8,390.5 135.1,386.7 135.3,388.0 135.6,392.3 135.8,392.2 136.1,389.9 136.3,391.4 136.6,396.9 136.8,394.4 137.1,390.3 137.3,391.9 137.6,395.3 137.8,399.6 138.1,393.8 138.3,391.2 138.6,397.3 138.8,400.2 139.1,393.9 139.3,392.0 139.6,396.8 139.8,398.5 140.1,394.7 140.3,394.9 140.6,397.3 140.8,402.2 141.1,395.6 141.3,396.9 141.6,399.2 141.8,404.2 142.1,395.5 142.3,398.0 142.6,401.5 142.8,401.8 143.1,397.0 143.3,397.7 143.6,403.1 143.8,402.2 144.1,397.9 144.3,398.9 144.6,405.2 144.8,404.0 145.1,400.7 145.3,398.8 145.6,407.7 145.8,402.1 146.1,398.4 146.3,401.5 146.6,406.2 146.8,406.5 147.1,400.2 147.3,403.9 147.6,408.6 147.8,406.9 148.1,402.9 148.3,402.2 148.6,409.0 148.8,416.7 149.1,400.1 149.3,403.3 149.6,407.2 149.8,407.2 150.1,402.4 150.3,400.2 150.6,407.3 150.8,412.1 151.1,405.7 151.3,401.6 151.6,409.2 151.8,412.0 152.1,405.6 152.3,404.3 152.6,409.1 152.8,407.1 153.1,400.7 153.3,402.2 153.6,409.0 153.8,416.6 154.1,402.1 154.3,400.5 154.6,408.9 154.8,406.8 155.1,404.0 155.3,402.8 155.6,406.7 155.8,411.5 156.1,399.6 156.3,399.5 156.6,408.5 156.8,416.0 157.1,398.8 157.3,398.7 157.6,404.8 157.8,403.5 158.1,402.3 158.3,399.8 158.6,404.6 158.8,410.9 159.1,400.4 159.3,400.3 159.6,407.9 159.8,401.9 160.1,397.6 160.3,398.0 160.6,404.1 160.8,404.0 161.1,398.5 161.3,399.1 161.6,403.9 161.8,410.1 162.1,398.9 162.3,398.1 162.6,401.3 162.8,403.4 163.1,399.4 163.3,398.5 163.6,402.0 163.8,399.9 164.1,397.6 164.3,396.2 164.6,400.6 164.8,404.3 165.1,398.5 165.3,395.7 165.6,400.2 165.8,398.9 166.1,394.7 166.3,394.3 166.6,399.6 166.8,400.5 167.1,390.7 167.3,393.8 167.6,397.2 167.8,397.9 168.1,392.6 168.3,389.8 168.6,396.8 168.8,394.6 169.1,389.9 169.3,391.2 169.6,395.5 169.8,393.9 170.1,391.3 170.3,389.2 170.6,393.6 170.8,393.7 171.1,388.4 171.3,387.7 171.6,391.2 171.8,389.3 172.1,385.3 172.3,384.9 172.6,387.7 172.8,388.0 173.1,383.8 173.3,382.0 173.6,385.0 173.8,384.7 174.1,380.3 174.3,378.7 174.6,382.8 174.8,380.6 175.1,375.3 175.3,374.0 175.6,377.3 175.8,374.5 176.1,370.6 176.3,366.7 176.6,369.3 176.8,367.9 177.1,362.7 177.3,357.3 177.6,362.2 177.8,356.5 178.1,351.6 178.3,344.1 178.6,350.2 178.8,342.7 179.1,335.4 179.3,326.9 179.6,333.6 179.8,326.0 180.1,325.0 180.3,327.1 180.6,333.5 180.8,343.1 181.1,335.2 181.3,344.4 181.6,350.9 181.8,357.5 182.1,352.4 182.3,358.3 182.6,362.9 182.8,367.3 183.1,363.7 183.3,367.8 183.6,371.6 183.8,374.6 184.1,372.7 184.3,375.2 184.6,378.1 184.8,379.6 185.1,377.3 185.3,379.3 185.6,382.7 185.8,385.2 186.1,383.2 186.3,384.7 186.6,386.9 186.8,388.5 187.1,386.2 187.3,387.1 187.6,390.5 187.8,390.4 188.1,386.2 188.3,389.5 188.6,393.8 188.8,391.9 189.1,390.2 189.3,391.3 189.6,394.9 189.8,394.4 190.1,393.0 190.3,393.9 190.6,400.5 190.8,400.6 191.1,395.7 191.3,395.8 191.6,398.2 191.8,398.7 192.1,395.4 192.3,396.8 192.6,404.6 192.8,402.0 193.1,395.7 193.3,397.7 193.6,403.8 193.8,404.1 194.1,396.8 194.3,398.9 194.6,410.8 194.8,408.1 195.1,398.5 195.3,400.0 195.6,408.4 195.8,406.7 196.1,399.1 196.3,399.8 196.6,406.9 196.8,407.1 197.1,402.2 197.3,404.5 197.6,412.2 197.8,409.5 198.1,404.7 198.3,402.8 198.6,412.6 198.8,412.6 199.1,400.9 199.3,402.4 199.6,412.8 199.8,410.1 200.1,402.6 200.3,403.4 200.6,410.3 200.8,413.3 201.1,402.0 201.3,408.6 201.6,418.1 201.8,413.5 202.1,405.8 202.3,404.9 202.6,418.4 202.8,408.9 203.1,407.3 203.3,404.1 203.6,413.8 203.8,413.9 204.1,406.3 204.3,406.4 204.6,418.9 204.8,414.1 205.1,407.7 205.3,406.5 205.6,414.2 205.8,419.0 206.1,404.6 206.3,407.9 206.6,414.3 206.8,419.2 207.1,406.7 207.3,405.8 207.6,414.5 207.8,414.6 208.1,404.1 208.3,408.2 208.6,419.4 208.8,419.5 209.1,408.3 209.3,408.3 209.6,419.5 209.8,419.6 210.1,410.0 210.3,405.2 210.6,419.7 210.8,415.0 211.1,408.6 211.3,406.3 211.6,412.2 211.8,419.8 212.1,408.7 212.3,408.7 212.6,419.9 212.8,420.0 213.1,405.5 213.3,408.8 213.6,420.0 213.8,420.0 214.1,407.6 214.3,404.8 214.6,415.3 214.8,415.3 215.1,410.5 215.3,406.6 215.6,420.1 215.8,412.5 216.1,407.7 216.3,407.7 216.6,420.2 216.8,420.2 217.1,415.4 217.3,409.1 217.6,420.2 217.8,415.5 218.1,405.8 218.3,410.7 218.6,420.3 218.8,420.3 219.1,409.1 219.3,409.1 219.6,420.3 219.8,412.7 220.1,405.1 220.3,407.9 220.6,420.4 220.8,420.4 221.1,410.8 221.3,406.0 221.6,415.6 221.8,412.8 222.1,408.0 222.3,406.9 222.6,410.8 222.8,420.5 223.1,410.8 223.3,410.9 223.6,415.7 223.8,415.7 224.1,410.9 224.3,415.7 224.6,420.5 224.8,420.5 225.1,409.4 225.3,408.1 225.6,412.9 225.8,420.6 226.1,408.1 226.3,412.9 226.6,420.6 226.8,420.6 227.1,411.0 227.3,409.4 227.6,420.6 227.8,420.6 228.1,408.2 228.3,408.2 228.6,420.6 228.8,415.8 229.1,408.2" fill="none" stroke="#ee3a3a" stroke-width="1.9" stroke-linejoin="bevel"/><polyline points="31.8,469.5 32.0,458.5 32.3,462.0 32.5,469.5 32.8,469.5 33.0,460.0 33.3,460.0 33.5,469.5 33.8,464.8 34.0,458.5 34.3,458.5 34.5,464.8 34.8,469.5 35.0,457.2 35.3,456.1 35.5,469.5 35.8,464.8 36.0,460.0 36.3,457.2 36.5,464.8 36.8,469.5 37.0,456.1 37.3,457.2 37.5,469.5 37.8,469.5 38.0,458.5 38.3,460.0 38.5,464.9 38.8,469.5 39.0,458.5 39.3,457.2 39.5,469.5 39.8,469.5 40.0,457.2 40.3,458.5 40.5,464.9 40.8,469.5 41.0,456.2 41.3,457.2 41.5,464.9 41.8,469.5 42.0,460.1 42.3,457.2 42.5,469.5 42.8,469.5 43.0,462.1 43.3,457.3 43.5,469.5 43.8,464.9 44.0,460.1 44.3,458.5 44.5,469.5 44.8,469.5 45.0,458.5 45.3,458.5 45.5,464.9 45.8,464.9 46.0,457.3 46.3,462.1 46.5,469.5 46.8,462.1 47.0,458.5 47.3,458.5 47.5,469.5 47.8,469.5 48.0,456.2 48.3,460.1 48.5,469.5 48.8,469.5 49.0,462.1 49.3,460.1 49.5,469.5 49.8,469.5 50.0,458.6 50.3,456.2 50.5,464.9 50.8,464.9 51.0,460.1 51.3,457.3 51.5,469.5 51.8,469.5 52.0,458.6 52.3,456.2 52.5,469.5 52.8,469.5 53.0,457.3 53.3,456.2 53.5,469.5 53.8,469.5 54.0,460.1 54.3,462.1 54.5,469.5 54.8,465.0 55.0,458.6 55.3,458.6 55.5,469.5 55.8,469.5 56.0,456.3 56.3,458.6 56.5,469.5 56.8,469.5 57.0,458.6 57.3,460.2 57.5,469.5 57.8,469.5 58.0,460.2 58.3,457.3 58.5,469.5 58.8,462.2 59.0,456.3 59.3,460.2 59.5,469.5 59.8,465.0 60.0,458.6 60.3,462.2 60.5,469.5 60.8,469.5 61.0,462.2 61.3,460.2 61.5,469.5 61.8,465.0 62.0,460.2 62.3,455.4 62.5,469.5 62.8,465.0 63.0,460.2 63.3,455.4 63.5,469.5 63.8,462.2 64.0,456.3 64.3,458.6 64.5,465.0 64.8,469.5 65.0,457.4 65.3,462.2 65.5,469.5 65.8,469.5 66.0,457.4 66.3,462.2 66.5,469.5 66.8,469.5 67.0,460.2 67.3,456.3 67.5,469.5 67.8,469.5 68.0,457.4 68.3,458.7 68.5,465.0 68.8,465.0 69.0,457.4 69.3,462.2 69.5,465.0 69.8,465.0 70.0,460.2 70.3,454.6 70.5,469.5 70.8,462.2 71.0,456.3 71.3,462.2 71.5,465.1 71.8,465.1 72.0,460.2 72.3,458.7 72.5,465.1 72.8,465.1 73.0,460.2 73.3,458.7 73.5,469.5 73.8,469.5 74.0,455.4 74.3,456.4 74.5,465.1 74.8,465.1 75.0,457.4 75.3,457.4 75.5,462.3 75.8,462.3 76.0,458.7 76.3,457.4 76.5,460.3 76.8,469.5 77.0,455.4 77.3,455.5 77.5,469.5 77.8,465.1 78.0,456.4 78.3,460.3 78.5,469.5 78.8,462.3 79.0,457.5 79.3,458.7 79.5,469.5 79.8,465.1 80.0,460.3 80.3,460.3 80.5,469.5 80.8,469.5 81.0,457.5 81.3,457.5 81.5,465.1 81.8,469.5 82.0,458.7 82.3,458.7 82.5,469.5 82.8,469.5 83.0,460.3 83.3,455.5 83.5,465.1 83.8,465.1 84.0,460.3 84.3,457.5 84.5,469.5 84.8,462.3 85.0,458.8 85.3,462.3 85.5,465.1 85.8,469.5 86.0,460.3 86.3,456.4 86.5,462.3 86.8,469.5 87.0,460.3 87.3,455.5 87.5,469.5 87.8,469.5 88.0,457.5 88.3,457.5 88.5,469.5 88.8,469.5 89.0,460.3 89.3,460.3 89.5,469.5 89.8,469.5 90.0,460.3 90.3,458.7 90.5,469.5 90.8,465.0 91.0,457.2 91.3,458.5 91.5,469.5 91.8,464.7 92.0,455.9 92.3,456.8 92.5,464.4 92.8,464.3 93.0,454.6 93.3,456.5 93.5,461.3 93.8,468.7 94.0,456.2 94.3,456.1 94.5,468.5 94.8,463.5 95.0,457.1 95.3,452.9 95.5,468.2 95.8,460.3 96.0,453.6 96.3,453.4 96.5,458.3 96.8,458.1 97.0,451.6 97.3,451.5 97.5,457.9 97.8,467.4 98.0,452.1 98.3,451.9 98.5,457.6 98.8,467.0 99.0,452.5 99.3,452.3 99.5,455.6 99.8,456.9 100.0,450.6 100.3,449.8 100.5,461.7 100.8,456.7 101.0,450.8 101.3,447.6 101.5,458.4 101.8,452.1 102.0,449.0 102.3,446.2 102.5,454.2 102.8,454.0 103.0,447.5 103.3,447.7 103.5,452.4 103.8,464.6 104.0,447.4 104.3,446.5 104.5,450.7 104.8,454.4 105.0,446.6 105.3,446.9 105.5,450.3 105.8,447.5 106.0,443.2 106.3,443.4 106.5,447.9 106.8,448.3 107.0,442.4 107.3,442.5 107.5,448.2 107.8,445.7 108.0,441.4 108.3,440.9 108.5,444.7 108.8,444.0 109.0,441.3 109.3,441.6 109.5,447.2 109.8,446.2 110.0,441.2 110.3,440.4 110.5,443.4 110.8,444.3 111.0,438.6 111.3,437.8 111.5,442.0 111.8,440.5 112.0,438.4 112.3,438.6 112.5,441.1 112.8,443.0 113.0,437.1 113.3,435.9 113.5,439.3 113.8,439.4 114.0,435.9 114.3,436.0 114.5,439.6 114.8,438.2 115.0,436.7 115.3,436.1 115.5,437.7 115.8,436.9 116.0,435.5 116.3,434.7 116.5,436.1 116.8,437.0 117.0,433.1 117.3,432.8 117.5,434.8 117.8,433.9 118.0,431.7 118.3,431.1 118.5,432.2 118.8,432.8 119.0,428.5 119.3,427.7 119.5,431.2 119.8,427.7 120.0,426.5 120.3,425.2 120.5,426.9 120.8,425.9 121.0,423.3 121.3,422.4 121.5,425.8 121.8,423.3 122.0,421.6 122.3,420.7 122.5,423.1 122.8,421.2 123.0,419.9 123.3,418.8 123.5,420.8 123.8,420.5 124.0,419.2 124.3,418.5 124.5,419.2 124.8,418.8 125.0,416.8 125.3,417.7 125.5,419.5 125.8,420.3 126.0,418.4 126.3,417.9 126.5,419.1 127.0,418.2 127.3,418.1 127.5,419.2 127.8,420.9 128.1,418.5 128.3,419.1 128.6,421.1 128.8,421.0 129.1,419.8 129.3,420.4 129.6,422.0 129.8,422.9 130.1,420.6 130.3,423.0 130.6,424.8 130.8,424.4 131.1,423.4 131.3,425.1 131.6,426.0 131.8,428.1 132.1,424.9 132.3,426.5 132.6,430.2 132.8,430.9 133.1,427.5 133.3,429.7 133.6,433.0 133.8,435.1 134.1,430.4 134.3,430.4 134.6,435.4 134.8,434.6 135.1,432.3 135.3,431.1 135.6,437.8 135.8,437.7 136.1,435.1 136.3,435.3 136.6,437.4 136.8,438.8 137.1,436.7 137.3,437.4 137.6,443.5 137.8,439.7 138.1,438.0 138.3,437.7 138.6,439.9 138.8,441.8 139.1,438.2 139.3,439.5 139.6,443.6 139.8,442.3 140.1,439.7 140.3,439.4 140.6,444.8 140.8,449.9 141.1,441.5 141.3,442.3 141.6,444.7 141.8,449.2 142.1,442.4 142.3,443.9 142.6,446.6 142.8,448.3 143.1,446.3 143.3,444.1 143.6,448.4 143.8,451.7 144.1,442.8 144.3,446.5 144.6,453.2 144.8,448.5 145.1,446.7 145.3,444.9 145.6,451.1 145.8,451.2 146.1,448.8 146.3,449.0 146.6,451.5 146.8,451.6 147.1,446.3 147.3,448.5 147.6,454.0 147.8,457.6 148.1,447.4 148.3,449.3 148.6,454.1 148.8,452.9 149.1,448.7 149.3,449.3 149.6,454.1 149.8,451.8 150.1,448.7 150.3,445.6 150.6,455.7 150.8,451.8 151.1,447.0 151.3,448.0 151.6,452.9 151.8,460.5 152.1,447.0 152.3,447.5 152.6,451.8 152.8,454.1 153.1,448.0 153.3,448.0 153.6,450.8 153.8,454.1 154.1,446.9 154.3,449.2 154.6,452.8 154.8,451.6 155.1,447.8 155.3,449.0 155.6,457.4 155.8,453.8 156.1,447.6 156.3,446.0 156.6,453.6 156.8,456.9 157.1,446.2 157.3,445.0 157.6,450.8 157.8,449.0 158.1,445.8 158.3,445.6 158.6,451.5 158.8,451.3 159.1,445.3 159.3,442.7 159.6,448.2 159.8,448.8 160.1,444.5 160.3,443.4 160.6,449.5 160.8,447.6 161.1,441.0 161.3,443.3 161.6,445.8 161.8,445.1 162.1,441.3 162.3,440.3 162.6,444.4 162.8,443.9 163.1,440.3 163.3,439.8 163.6,441.8 163.8,444.6 164.1,439.9 164.3,438.8 164.6,440.9 164.8,442.7 165.1,437.3 165.3,436.2 165.6,441.2 165.8,440.5 166.1,435.4 166.3,435.3 166.6,436.7 166.8,437.7 167.1,434.0 167.3,433.9 167.6,436.4 167.8,436.1 168.1,431.9 168.3,431.8 168.6,434.0 168.8,433.2 169.1,430.5 169.3,428.3 169.6,430.7 169.8,430.1 170.1,429.1 170.3,427.0 170.6,430.2 170.8,429.2 171.1,427.5 171.3,424.8 171.6,427.4 171.8,426.2 172.1,423.9 172.3,421.9 172.6,423.2 172.8,423.2 173.1,420.8 173.3,418.6 173.6,419.9 173.8,418.3 174.1,416.7 174.3,413.9 174.6,417.1 174.8,413.9 175.1,412.3 175.3,408.9 175.6,410.9 175.8,408.5 176.1,406.1 176.3,401.8 176.6,405.4 176.8,401.2 177.1,397.7 177.3,392.7 177.6,396.8 177.8,391.7 178.1,386.3 178.3,379.0 178.6,384.8 178.8,376.9 179.1,369.8 179.3,361.4 179.6,367.9 179.8,360.5 180.1,359.6 180.3,361.5 180.6,368.2 180.8,377.6 181.1,370.2 181.3,379.4 181.6,385.5 181.8,392.6 182.1,386.9 182.3,393.5 182.6,397.9 182.8,403.1 183.1,399.7 183.3,403.6 183.6,406.9 183.8,410.7 184.1,407.1 184.3,411.2 184.6,413.7 184.8,415.8 185.1,413.5 185.3,417.6 185.6,419.2 185.8,421.8 186.1,419.6 186.3,421.8 186.6,423.9 186.8,425.9 187.1,424.2 187.3,426.1 187.6,427.7 187.8,428.8 188.1,427.6 188.3,428.6 188.6,430.4 188.8,434.0 189.1,429.7 189.3,431.4 189.6,436.0 189.8,434.8 190.1,430.9 190.3,433.3 190.6,437.4 190.8,439.6 191.1,434.8 191.3,436.0 191.6,440.5 191.8,439.6 192.1,437.6 192.3,439.3 192.6,440.1 192.8,443.8 193.1,438.8 193.3,440.7 193.6,445.6 193.8,444.9 194.1,441.3 194.3,443.1 194.6,446.3 194.8,448.9 195.1,443.7 195.3,444.9 195.6,452.8 195.8,448.2 196.1,444.2 196.3,445.8 196.6,448.5 196.8,449.7 197.1,446.8 197.3,445.2 197.6,455.8 197.8,454.5 198.1,448.4 198.3,451.5 198.6,461.3 198.8,455.0 199.1,449.7 199.3,450.5 199.6,455.5 199.8,462.2 200.1,451.6 200.3,451.2 200.6,459.4 200.8,457.8 201.1,450.1 201.3,451.0 201.6,456.4 201.8,460.2 202.1,453.4 202.3,453.6 202.6,458.5 202.8,463.5 203.1,455.8 203.3,454.8 203.6,458.8 203.8,463.8 204.1,451.9 204.3,457.6 204.6,468.8 204.8,464.1 205.1,454.4 205.3,454.6 205.6,459.4 205.8,464.4 206.1,456.7 206.3,454.0 206.6,469.4 206.8,469.5 207.1,454.2 207.3,456.1 207.6,469.5 207.8,464.9 208.1,456.2 208.3,454.6 208.6,465.1 208.8,469.5 209.1,456.5 209.3,458.9 209.6,465.4 209.8,465.5 210.1,457.8 210.3,457.9 210.6,462.8 210.8,469.5 211.1,459.3 211.3,457.1 211.6,465.8 211.8,463.1 212.1,458.2 212.3,456.3 212.6,466.0 212.8,469.5 213.1,459.7 213.3,455.7 213.6,466.1 213.8,469.5 214.1,458.6 214.3,459.9 214.6,466.2 214.8,469.5 215.1,458.6 215.3,461.5 215.6,469.5 215.8,463.5 216.1,460.0 216.3,458.7 216.6,469.5 216.8,469.5 217.1,463.6 217.3,457.7 217.6,469.5 217.8,466.5 218.1,460.1 218.3,454.6 218.6,469.5 218.8,466.5 219.1,461.7 219.3,461.7 219.6,466.5 219.8,469.5 220.1,457.8 220.3,461.8 220.6,466.6 220.8,466.6 221.1,460.2 221.3,463.8 221.6,469.5 221.8,466.6 222.1,457.9 222.3,457.0 222.6,466.7 222.8,469.5 223.1,460.3 223.3,459.0 223.6,469.5 223.8,463.9 224.1,459.1 224.3,461.9 224.6,466.7 224.8,469.5 225.1,461.9 225.3,460.4 225.6,469.5 225.8,469.5 226.1,460.4 226.3,457.1 226.6,469.5 226.8,466.8 227.1,456.3 227.3,460.4 227.6,469.5 227.8,469.5 228.1,462.0 228.3,460.4 228.6,466.8 228.8,469.5 229.1,460.4" fill="none" stroke="#474747" stroke-width="1.9" stroke-linejoin="bevel"/><rect x="31.2" y="2.0" width="198.8" height="503.5" fill="none" stroke="#000" stroke-width="2"/><line x1="31.2" y1="505.5" x2="31.2" y2="502.0" stroke="#000" stroke-width="1.6"/><line x1="64.3" y1="505.5" x2="64.3" y2="503.5" stroke="#000" stroke-width="1.6"/><line x1="97.5" y1="505.5" x2="97.5" y2="502.0" stroke="#000" stroke-width="1.6"/><line x1="130.6" y1="505.5" x2="130.6" y2="503.5" stroke="#000" stroke-width="1.6"/><line x1="163.7" y1="505.5" x2="163.7" y2="502.0" stroke="#000" stroke-width="1.6"/><line x1="196.9" y1="505.5" x2="196.9" y2="503.5" stroke="#000" stroke-width="1.6"/><line x1="230.0" y1="505.5" x2="230.0" y2="502.0" stroke="#000" stroke-width="1.6"/><text x="31.2" y="523.6" font-size="18" text-anchor="middle" fill="#111">42</text><text x="97.5" y="523.6" font-size="18" text-anchor="middle" fill="#111">44</text><text x="163.7" y="523.6" font-size="18" text-anchor="middle" fill="#111">46</text><text x="230.0" y="523.6" font-size="18" text-anchor="middle" fill="#111">48</text><text x="131" y="553" font-size="18" text-anchor="middle" fill="#111">2θ (°)</text><text transform="translate(13.4,254) rotate(-90)" font-size="18" text-anchor="middle" fill="#111">log[Intensity (arb.unit)]</text><text x="40.5" y="25.5" font-size="18" fill="#111">(a)</text><polygon points="78.6,25 98.5,9.3 181.5,9.3 161.8,25" fill="#2f71d6"/><polygon points="161.8,25 181.5,9.3 181.5,24.5 161.8,40" fill="#2a5ec0"/><polygon points="161.8,40 181.5,24.5 181.5,47.5 161.8,63" fill="#d0343a"/><rect x="78.6" y="25" width="83.2" height="15" fill="#2f71d6"/><rect x="78.6" y="40" width="83.2" height="23" fill="#e83a3f"/><text x="84" y="36" font-size="11.8" font-weight="bold" fill="#fff" letter-spacing="0.35">BaTi<tspan font-size="6.5" dy="3.5" dx="0.5">1-x</tspan><tspan dy="-3.5" dx="0.8">Sn</tspan><tspan font-size="6.5" dy="3.5" dx="0.3">x</tspan><tspan dy="-3.5" dx="0.8">O</tspan><tspan font-size="6.5" dy="3.5" dx="0.3">3</tspan></text><text x="88.4" y="55" font-size="11.6" font-weight="bold" fill="#fff">SrTiO<tspan font-size="6.5" dy="3">3</tspan><tspan dy="-3" dx="2.5">(001)</tspan></text><g stroke="#222" fill="#222"><line x1="185.6" y1="11" x2="185.6" y2="19.8" stroke-width="1.2"/><polygon points="184,12 187.2,12 185.6,9.6" stroke="none"/><polygon points="184,18.8 187.2,18.8 185.6,21.2" stroke="none"/></g><text x="190" y="19.9" font-size="11.2" font-weight="bold" fill="#111">40 nm</text><text x="60" y="91.5" font-size="18" fill="#22bdb8">BaSnO<tspan font-size="12.5" dy="4.5">3</tspan></text><text x="89.5" y="114" font-size="18" text-anchor="middle" fill="#22bdb8">(002)</text><text transform="translate(203.5,133.5) rotate(-90)" font-size="18" fill="#22bdb8">SrTiO<tspan font-size="12.5" dy="4.5">3</tspan></text><text transform="translate(222.5,107) rotate(-90)" font-size="18" text-anchor="middle" fill="#22bdb8">(002)</text><text x="101" y="477.7" font-size="18" fill="#4d4d4d">BaTiO<tspan font-size="12.5" dy="4.5">3</tspan></text><text x="126.5" y="495.5" font-size="18" text-anchor="middle" fill="#4d4d4d">(002)</text><text x="34" y="152.7" font-size="18" fill="#22bdb8">x=1</text><text x="34" y="203.3" font-size="18" fill="#c9a01a">0.69</text><text x="34" y="250.2" font-size="18" fill="#a66fdf">0.48</text><text x="34" y="295.6" font-size="18" fill="#30a868">0.32</text><text x="34" y="345.6" font-size="18" fill="#1f62d8">0.16</text><text x="34" y="397.7" font-size="18" fill="#ee3a3a">0.09</text><text x="34" y="449.8" font-size="18" fill="#4a4a4a">0</text><line x1="335.0" y1="150.4" x2="501.0" y2="15.0" stroke="#444" stroke-width="2" stroke-dasharray="9 10.5"/><circle cx="335.0" cy="150.4" r="4.1" fill="#1e50a6" stroke="#173f86" stroke-width="1.1"/><circle cx="349.9" cy="150.4" r="4.1" fill="#1e50a6" stroke="#173f86" stroke-width="1.1"/><circle cx="361.6" cy="135.5" r="4.1" fill="#1e50a6" stroke="#173f86" stroke-width="1.1"/><circle cx="388.1" cy="107.1" r="4.1" fill="#1e50a6" stroke="#173f86" stroke-width="1.1"/><circle cx="414.7" cy="92.2" r="4.1" fill="#1e50a6" stroke="#173f86" stroke-width="1.1"/><circle cx="449.5" cy="59.7" r="4.1" fill="#1e50a6" stroke="#173f86" stroke-width="1.1"/><circle cx="501.0" cy="15.0" r="4.1" fill="#1e50a6" stroke="#173f86" stroke-width="1.1"/><line x1="319.0" y1="242.9" x2="517.8" y2="242.9" stroke="#666" stroke-width="1.6" stroke-dasharray="6.8 5.4" stroke-dashoffset="1.7"/><line x1="319.0" y1="296.8" x2="517.8" y2="296.8" stroke="#666" stroke-width="1.6" stroke-dasharray="6.8 5.4" stroke-dashoffset="1.7"/><line x1="335" y1="296.6" x2="501.5" y2="242.8" stroke="#444" stroke-width="1.8"/><circle cx="335.0" cy="296.2" r="4.1" fill="#1e50a6" stroke="#173f86" stroke-width="1.1"/><circle cx="349.9" cy="286.2" r="4.1" fill="#1e50a6" stroke="#173f86" stroke-width="1.1"/><circle cx="361.6" cy="283.8" r="4.1" fill="#1e50a6" stroke="#173f86" stroke-width="1.1"/><circle cx="388.1" cy="279.8" r="4.1" fill="#1e50a6" stroke="#173f86" stroke-width="1.1"/><circle cx="414.7" cy="268.8" r="4.1" fill="#1e50a6" stroke="#173f86" stroke-width="1.1"/><circle cx="449.5" cy="263.1" r="4.1" fill="#1e50a6" stroke="#173f86" stroke-width="1.1"/><circle cx="501.0" cy="231.3" r="4.1" fill="#1e50a6" stroke="#173f86" stroke-width="1.1"/><path d="M330,464.5 C333.3,460.5 342.5,449.4 350,440.5 C357.5,431.6 367.5,419.5 375,411 C382.5,402.5 388.7,394.8 395,389.5 C401.3,384.2 408.2,379.9 413,379.5 C417.8,379.1 420.8,382.8 424,387 C427.2,391.2 429.3,397.8 432,405 C434.7,412.2 437.2,423.7 440,430 C442.8,436.3 445.3,440.6 449,443 C452.7,445.4 456.8,444.6 462,444.6 C467.2,444.6 473.5,443.8 480,443 C486.5,442.2 497.5,440.5 501,440" fill="none" stroke="#444" stroke-width="2" stroke-dasharray="9 10.5"/><circle cx="335.0" cy="458.0" r="4.1" fill="#1e50a6" stroke="#173f86" stroke-width="1.1"/><circle cx="349.9" cy="421.5" r="4.1" fill="#1e50a6" stroke="#173f86" stroke-width="1.1"/><circle cx="361.6" cy="425.0" r="4.1" fill="#1e50a6" stroke="#173f86" stroke-width="1.1"/><circle cx="388.1" cy="403.7" r="4.1" fill="#1e50a6" stroke="#173f86" stroke-width="1.1"/><circle cx="414.7" cy="380.0" r="4.1" fill="#1e50a6" stroke="#173f86" stroke-width="1.1"/><circle cx="449.5" cy="444.5" r="4.1" fill="#1e50a6" stroke="#173f86" stroke-width="1.1"/><circle cx="501.0" cy="439.7" r="4.1" fill="#1e50a6" stroke="#173f86" stroke-width="1.1"/><rect x="319.0" y="2.0" width="198.79999999999995" height="161.8" fill="none" stroke="#000" stroke-width="2"/><line x1="335.0" y1="163.8" x2="335.0" y2="160.3" stroke="#000" stroke-width="1.6"/><line x1="355.8" y1="163.8" x2="355.8" y2="161.8" stroke="#000" stroke-width="1.6"/><line x1="376.5" y1="163.8" x2="376.5" y2="160.3" stroke="#000" stroke-width="1.6"/><line x1="397.2" y1="163.8" x2="397.2" y2="161.8" stroke="#000" stroke-width="1.6"/><line x1="418.0" y1="163.8" x2="418.0" y2="160.3" stroke="#000" stroke-width="1.6"/><line x1="438.8" y1="163.8" x2="438.8" y2="161.8" stroke="#000" stroke-width="1.6"/><line x1="459.5" y1="163.8" x2="459.5" y2="160.3" stroke="#000" stroke-width="1.6"/><line x1="480.2" y1="163.8" x2="480.2" y2="161.8" stroke="#000" stroke-width="1.6"/><line x1="501.0" y1="163.8" x2="501.0" y2="160.3" stroke="#000" stroke-width="1.6"/><rect x="319.0" y="173.2" width="198.79999999999995" height="161.10000000000002" fill="none" stroke="#000" stroke-width="2"/><line x1="335.0" y1="334.3" x2="335.0" y2="330.8" stroke="#000" stroke-width="1.6"/><line x1="355.8" y1="334.3" x2="355.8" y2="332.3" stroke="#000" stroke-width="1.6"/><line x1="376.5" y1="334.3" x2="376.5" y2="330.8" stroke="#000" stroke-width="1.6"/><line x1="397.2" y1="334.3" x2="397.2" y2="332.3" stroke="#000" stroke-width="1.6"/><line x1="418.0" y1="334.3" x2="418.0" y2="330.8" stroke="#000" stroke-width="1.6"/><line x1="438.8" y1="334.3" x2="438.8" y2="332.3" stroke="#000" stroke-width="1.6"/><line x1="459.5" y1="334.3" x2="459.5" y2="330.8" stroke="#000" stroke-width="1.6"/><line x1="480.2" y1="334.3" x2="480.2" y2="332.3" stroke="#000" stroke-width="1.6"/><line x1="501.0" y1="334.3" x2="501.0" y2="330.8" stroke="#000" stroke-width="1.6"/><rect x="319.0" y="344.0" width="198.79999999999995" height="161.5" fill="none" stroke="#000" stroke-width="2"/><line x1="335.0" y1="505.5" x2="335.0" y2="502.0" stroke="#000" stroke-width="1.6"/><line x1="355.8" y1="505.5" x2="355.8" y2="503.5" stroke="#000" stroke-width="1.6"/><line x1="376.5" y1="505.5" x2="376.5" y2="502.0" stroke="#000" stroke-width="1.6"/><line x1="397.2" y1="505.5" x2="397.2" y2="503.5" stroke="#000" stroke-width="1.6"/><line x1="418.0" y1="505.5" x2="418.0" y2="502.0" stroke="#000" stroke-width="1.6"/><line x1="438.8" y1="505.5" x2="438.8" y2="503.5" stroke="#000" stroke-width="1.6"/><line x1="459.5" y1="505.5" x2="459.5" y2="502.0" stroke="#000" stroke-width="1.6"/><line x1="480.2" y1="505.5" x2="480.2" y2="503.5" stroke="#000" stroke-width="1.6"/><line x1="501.0" y1="505.5" x2="501.0" y2="502.0" stroke="#000" stroke-width="1.6"/><line x1="319.0" y1="150.4" x2="322.5" y2="150.4" stroke="#000" stroke-width="1.6"/><line x1="319.0" y1="116.6" x2="322.5" y2="116.6" stroke="#000" stroke-width="1.6"/><line x1="319.0" y1="82.7" x2="322.5" y2="82.7" stroke="#000" stroke-width="1.6"/><line x1="319.0" y1="48.8" x2="322.5" y2="48.8" stroke="#000" stroke-width="1.6"/><line x1="319.0" y1="15.0" x2="322.5" y2="15.0" stroke="#000" stroke-width="1.6"/><line x1="319.0" y1="133.5" x2="321.0" y2="133.5" stroke="#000" stroke-width="1.6"/><line x1="319.0" y1="99.6" x2="321.0" y2="99.6" stroke="#000" stroke-width="1.6"/><line x1="319.0" y1="65.8" x2="321.0" y2="65.8" stroke="#000" stroke-width="1.6"/><line x1="319.0" y1="31.9" x2="321.0" y2="31.9" stroke="#000" stroke-width="1.6"/><line x1="319.0" y1="321.2" x2="322.5" y2="321.2" stroke="#000" stroke-width="1.6"/><line x1="319.0" y1="287.4" x2="322.5" y2="287.4" stroke="#000" stroke-width="1.6"/><line x1="319.0" y1="253.6" x2="322.5" y2="253.6" stroke="#000" stroke-width="1.6"/><line x1="319.0" y1="219.8" x2="322.5" y2="219.8" stroke="#000" stroke-width="1.6"/><line x1="319.0" y1="186.0" x2="322.5" y2="186.0" stroke="#000" stroke-width="1.6"/><line x1="319.0" y1="304.3" x2="321.0" y2="304.3" stroke="#000" stroke-width="1.6"/><line x1="319.0" y1="270.5" x2="321.0" y2="270.5" stroke="#000" stroke-width="1.6"/><line x1="319.0" y1="236.7" x2="321.0" y2="236.7" stroke="#000" stroke-width="1.6"/><line x1="319.0" y1="202.9" x2="321.0" y2="202.9" stroke="#000" stroke-width="1.6"/><line x1="319.0" y1="488.7" x2="322.5" y2="488.7" stroke="#000" stroke-width="1.6"/><line x1="319.0" y1="445.9" x2="322.5" y2="445.9" stroke="#000" stroke-width="1.6"/><line x1="319.0" y1="403.2" x2="322.5" y2="403.2" stroke="#000" stroke-width="1.6"/><line x1="319.0" y1="360.4" x2="322.5" y2="360.4" stroke="#000" stroke-width="1.6"/><line x1="319.0" y1="467.3" x2="321.0" y2="467.3" stroke="#000" stroke-width="1.6"/><line x1="319.0" y1="424.5" x2="321.0" y2="424.5" stroke="#000" stroke-width="1.6"/><line x1="319.0" y1="381.8" x2="321.0" y2="381.8" stroke="#000" stroke-width="1.6"/><text x="311.3" y="156.8" font-size="18" text-anchor="end" fill="#111">0.00</text><text x="311.3" y="123.0" font-size="18" text-anchor="end" fill="#111">0.25</text><text x="311.3" y="89.1" font-size="18" text-anchor="end" fill="#111">0.50</text><text x="311.3" y="55.2" font-size="18" text-anchor="end" fill="#111">0.75</text><text x="311.3" y="21.4" font-size="18" text-anchor="end" fill="#111">1.00</text><text x="311.3" y="327.6" font-size="18" text-anchor="end" fill="#111">4.00</text><text x="311.3" y="293.8" font-size="18" text-anchor="end" fill="#111">4.05</text><text x="311.3" y="260.0" font-size="18" text-anchor="end" fill="#111">4.10</text><text x="311.3" y="226.2" font-size="18" text-anchor="end" fill="#111">4.15</text><text x="311.3" y="192.4" font-size="18" text-anchor="end" fill="#111">4.20</text><text x="311.3" y="495.1" font-size="18" text-anchor="end" fill="#111">0.0</text><text x="311.3" y="452.3" font-size="18" text-anchor="end" fill="#111">0.1</text><text x="311.3" y="409.6" font-size="18" text-anchor="end" fill="#111">0.2</text><text x="311.3" y="366.8" font-size="18" text-anchor="end" fill="#111">0.3</text><text x="335.0" y="526" font-size="18" text-anchor="middle" fill="#111">0.00</text><text x="376.5" y="526" font-size="18" text-anchor="middle" fill="#111">0.25</text><text x="418.0" y="526" font-size="18" text-anchor="middle" fill="#111">0.50</text><text x="459.5" y="526" font-size="18" text-anchor="middle" fill="#111">0.75</text><text x="501.0" y="526" font-size="18" text-anchor="middle" fill="#111">1.00</text><text x="418" y="552.5" font-size="18" text-anchor="middle" fill="#111"><tspan font-style="italic">x</tspan> (BEP ratio)</text><text transform="translate(260.2,82.5) rotate(-90)" font-size="18" text-anchor="middle" fill="#111"><tspan font-style="italic">x</tspan> (XPS)</text><text transform="translate(260.5,253) rotate(-90)" font-size="18" text-anchor="middle" fill="#111"><tspan font-style="italic">a</tspan><tspan font-style="italic" font-size="12.5" dy="4">op</tspan><tspan dy="-4"> (Å)</tspan></text><text transform="translate(263.5,424) rotate(-90)" font-size="18" text-anchor="middle" fill="#111">FWHM (°)</text><text x="330" y="27.5" font-size="18" fill="#111">(b)</text><text x="330" y="194" font-size="18" fill="#111">(c)</text><text x="329" y="369" font-size="18" fill="#111">(d)</text><line x1="377.5" y1="188.5" x2="398.5" y2="188.5" stroke="#444" stroke-width="2"/><text x="403" y="194.5" font-size="18" fill="#111">Vegard's Law</text><text x="326.5" y="233" font-size="18" fill="#555">bulk <tspan font-style="italic">a</tspan><tspan font-style="italic" font-size="12.5" dy="4">op</tspan><tspan dy="-4"> BSO</tspan></text><text x="326.5" y="321.2" font-size="18" fill="#555">bulk <tspan font-style="italic">a</tspan><tspan font-style="italic" font-size="12.5" dy="4">op</tspan><tspan dy="-4"> BTO</tspan></text></svg></body></html>
